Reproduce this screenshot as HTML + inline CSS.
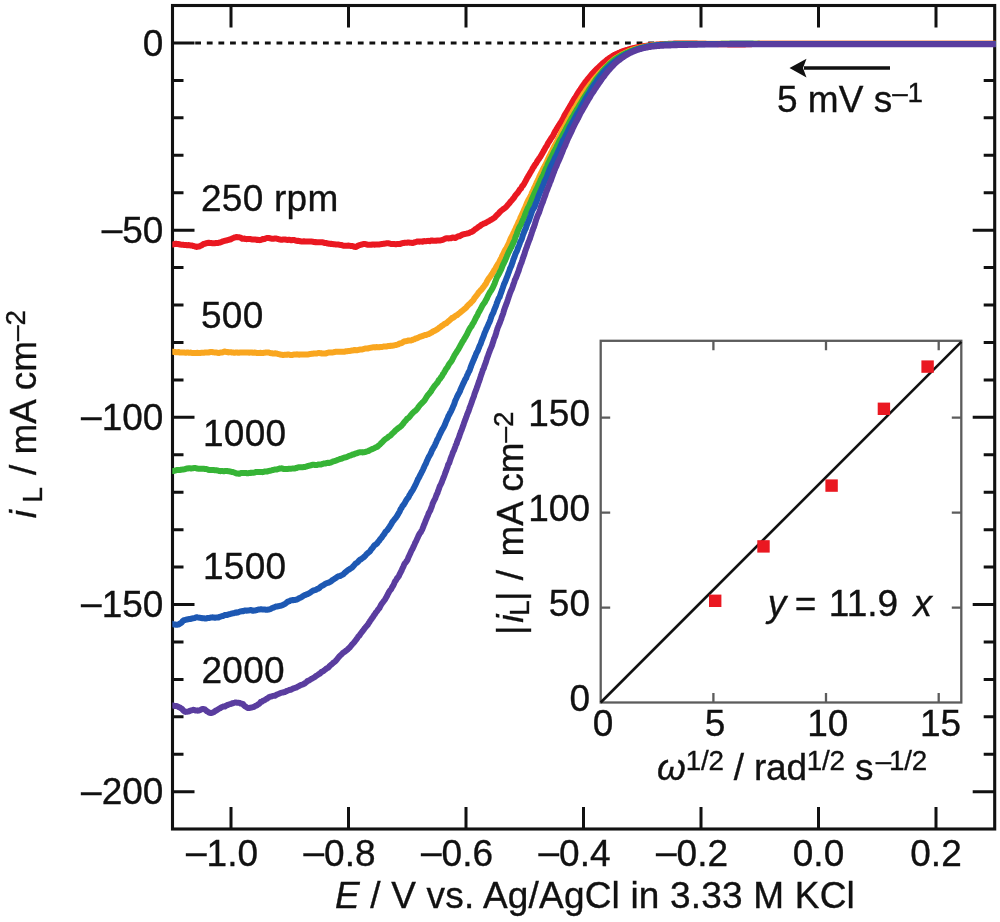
<!DOCTYPE html>
<html lang="en">
<head>
<meta charset="utf-8">
<title>RDE voltammograms</title>
<style>html,body{margin:0;padding:0;background:#fff}svg{display:block}</style>
</head>
<body>
<svg width="1000" height="922" viewBox="0 0 1000 922">
<rect width="1000" height="922" fill="#fff"/>
<filter id="soft" x="0" y="0" width="100%" height="100%" filterUnits="userSpaceOnUse" color-interpolation-filters="sRGB"><feGaussianBlur stdDeviation="0.55"/></filter>
<g filter="url(#soft)">
<rect width="1000" height="922" fill="#fff"/>
<g stroke="#111" stroke-width="3.0" fill="none">
<path d="M231.00 5.5v22.0M231.00 829.0v-22.0M348.50 5.5v22.0M348.50 829.0v-22.0M466.00 5.5v22.0M466.00 829.0v-22.0M583.50 5.5v22.0M583.50 829.0v-22.0M701.00 5.5v22.0M701.00 829.0v-22.0M818.50 5.5v22.0M818.50 829.0v-22.0M936.00 5.5v22.0M936.00 829.0v-22.0M172.5 43.00h22.0M994.7 43.00h-22.0M172.5 80.44h11.0M994.7 80.44h-11.0M172.5 117.87h11.0M994.7 117.87h-11.0M172.5 155.31h11.0M994.7 155.31h-11.0M172.5 192.74h11.0M994.7 192.74h-11.0M172.5 230.18h22.0M994.7 230.18h-22.0M172.5 267.61h11.0M994.7 267.61h-11.0M172.5 305.05h11.0M994.7 305.05h-11.0M172.5 342.48h11.0M994.7 342.48h-11.0M172.5 379.92h11.0M994.7 379.92h-11.0M172.5 417.35h22.0M994.7 417.35h-22.0M172.5 454.79h11.0M994.7 454.79h-11.0M172.5 492.22h11.0M994.7 492.22h-11.0M172.5 529.65h11.0M994.7 529.65h-11.0M172.5 567.09h11.0M994.7 567.09h-11.0M172.5 604.52h22.0M994.7 604.52h-22.0M172.5 641.96h11.0M994.7 641.96h-11.0M172.5 679.40h11.0M994.7 679.40h-11.0M172.5 716.83h11.0M994.7 716.83h-11.0M172.5 754.26h11.0M994.7 754.26h-11.0M172.5 791.70h22.0M994.7 791.70h-22.0"/>
</g>
<rect x="172.5" y="5.5" width="822.2" height="823.5" fill="none" stroke="#111" stroke-width="3.1"/>
<line x1="195.2" y1="43" x2="994.7" y2="43" stroke="#111" stroke-width="3.0" stroke-dasharray="5.8 5.816"/>
<clipPath id="pc"><rect x="172.3" y="0" width="823.4000000000001" height="922"/></clipPath>
<g fill="none" stroke-linejoin="round" stroke-linecap="butt" clip-path="url(#pc)">
<path d="M166.0 244.5L172.5 244.5L173.3 244.4L174.1 244.2L174.9 243.9L175.7 243.7L176.5 243.8L177.3 244.0L178.1 244.2L178.9 244.1L179.7 244.4L180.5 244.5L181.3 244.8L182.1 244.7L182.9 244.8L183.7 244.8L184.5 245.0L185.3 245.1L186.1 245.1L186.9 245.2L187.7 245.2L188.5 245.1L189.3 245.2L190.1 245.4L190.9 245.4L191.7 245.5L192.5 245.7L193.2 246.0L194.0 246.1L194.8 246.3L195.6 246.7L196.4 246.9L197.2 246.8L198.0 246.6L198.8 246.5L199.6 246.3L200.4 245.9L201.2 245.5L202.0 245.1L202.7 244.5L203.5 244.0L204.3 243.8L205.1 243.7L205.9 243.4L206.7 243.1L207.5 242.9L208.3 242.8L209.0 242.8L209.8 242.9L210.6 243.0L211.4 243.1L212.2 243.2L212.9 243.3L213.7 243.2L214.5 243.3L215.3 243.1L216.0 243.1L216.8 243.1L217.6 243.0L218.4 242.8L219.1 242.6L219.9 242.6L220.7 242.3L221.4 242.0L222.2 241.6L223.0 241.3L223.7 241.1L224.5 240.9L225.2 240.8L226.0 240.5L226.8 240.4L227.5 240.2L228.3 240.0L229.1 239.7L229.8 239.5L230.6 239.4L231.4 238.9L232.2 238.5L232.9 238.1L233.7 237.9L234.5 237.5L235.3 237.3L236.0 237.1L236.8 237.1L237.6 237.2L238.4 237.3L239.2 237.3L240.0 237.4L240.7 237.8L241.5 238.2L242.3 238.8L243.1 238.8L243.9 238.6L244.7 238.6L245.5 239.0L246.3 239.2L247.1 239.1L247.9 238.9L248.7 239.0L249.4 239.1L250.2 239.1L251.0 239.2L251.8 239.4L252.6 239.5L253.4 239.6L254.2 239.5L255.0 239.5L255.8 239.7L256.6 239.9L257.4 239.8L258.2 239.8L259.0 240.0L259.8 240.2L260.6 240.0L261.4 239.7L262.2 239.2L263.0 239.0L263.8 239.2L264.6 239.0L265.4 238.5L266.2 238.2L267.0 238.1L267.8 238.0L268.6 237.9L269.4 238.1L270.2 238.4L271.0 238.6L271.8 238.7L272.6 238.7L273.4 238.8L274.2 238.6L275.0 238.4L275.8 238.5L276.6 238.7L277.4 238.9L278.2 239.0L279.0 239.3L279.8 239.5L280.6 239.7L281.4 239.7L282.2 239.7L283.0 239.6L283.8 239.6L284.6 239.6L285.4 239.6L286.2 239.7L287.0 239.9L287.8 239.9L288.6 239.8L289.4 239.8L290.2 239.9L291.0 240.2L291.8 240.2L292.6 240.1L293.4 239.9L294.2 240.0L295.0 240.3L295.8 240.6L296.6 240.8L297.4 240.9L298.2 240.8L299.0 240.9L299.8 241.2L300.5 241.3L301.3 241.4L302.1 241.5L302.9 241.4L303.7 241.3L304.5 241.3L305.3 241.5L306.1 241.4L306.9 241.5L307.7 241.5L308.5 241.6L309.3 241.5L310.1 241.5L310.9 241.5L311.7 241.6L312.5 241.7L313.3 241.8L314.1 242.0L314.9 242.2L315.7 242.1L316.5 242.2L317.3 242.2L318.1 242.2L318.9 242.2L319.7 242.2L320.5 242.3L321.3 242.3L322.0 242.3L322.8 242.3L323.6 242.6L324.4 242.9L325.2 243.0L326.0 243.1L326.8 243.1L327.6 243.5L328.4 243.6L329.2 243.8L330.0 243.8L330.8 243.9L331.6 243.8L332.4 244.0L333.2 244.2L334.0 244.3L334.8 244.3L335.6 244.4L336.4 244.4L337.2 244.4L337.9 244.5L338.7 244.6L339.5 244.8L340.3 244.9L341.1 245.0L341.9 245.1L342.7 245.5L343.5 245.8L344.3 245.8L345.1 245.8L345.9 245.7L346.7 245.8L347.5 245.8L348.3 245.6L349.1 245.7L349.9 245.7L350.7 246.0L351.5 246.0L352.3 246.1L353.1 246.2L353.9 246.6L354.7 246.9L355.4 247.0L356.2 246.8L357.0 246.4L357.8 245.9L358.6 245.4L359.4 245.2L360.2 245.0L361.0 244.7L361.8 244.5L362.6 244.3L363.4 244.0L364.2 243.9L365.0 244.1L365.8 244.2L366.6 244.4L367.4 244.7L368.2 244.8L369.0 244.8L369.8 244.7L370.6 244.8L371.4 244.8L372.2 244.6L373.0 244.5L373.8 244.6L374.6 244.7L375.4 244.6L376.2 244.4L377.0 244.5L377.8 244.6L378.6 244.5L379.4 244.4L380.2 244.3L381.0 244.2L381.8 244.0L382.6 243.9L383.4 243.8L384.2 243.8L385.0 243.6L385.8 243.4L386.6 243.3L387.4 243.3L388.2 243.2L389.0 243.4L389.8 243.7L390.6 243.9L391.4 243.9L392.2 244.0L393.0 244.0L393.8 244.1L394.6 244.1L395.4 244.2L396.2 244.2L397.0 244.1L397.8 243.9L398.6 243.9L399.4 244.0L400.2 243.9L401.0 243.6L401.8 243.3L402.6 243.2L403.4 243.0L404.2 242.9L404.9 242.7L405.7 242.8L406.5 242.8L407.3 242.7L408.1 242.5L408.9 242.6L409.7 242.7L410.5 242.7L411.3 242.7L412.1 243.0L412.9 243.0L413.7 242.7L414.5 242.3L415.3 242.3L416.1 242.0L416.9 241.6L417.7 241.5L418.5 241.6L419.3 241.7L420.1 241.6L420.9 241.5L421.7 241.6L422.5 241.7L423.3 241.4L424.1 241.1L424.9 241.2L425.7 241.2L426.5 241.2L427.3 241.0L428.1 240.8L428.9 241.0L429.7 241.2L430.4 240.9L431.2 240.5L432.0 240.4L432.8 240.7L433.6 240.7L434.4 240.8L435.2 240.8L436.0 240.8L436.8 240.6L437.6 240.5L438.4 240.4L439.2 240.5L440.0 240.5L440.7 240.4L441.5 240.2L442.3 240.0L443.1 239.7L443.9 239.2L444.7 238.9L445.5 238.6L446.3 238.2L447.1 238.2L447.8 238.3L448.6 238.4L449.4 238.3L450.2 238.3L451.0 238.2L451.8 237.8L452.5 237.5L453.3 237.5L454.1 237.8L454.9 237.9L455.7 237.9L456.4 237.4L457.2 236.8L458.0 236.4L458.7 236.2L459.5 236.2L460.3 235.8L461.1 235.4L461.8 234.8L462.6 234.5L463.3 234.3L464.1 234.2L464.9 234.0L465.6 233.9L466.4 233.7L467.1 233.5L467.9 233.3L468.6 233.2L469.4 232.9L470.1 232.4L470.8 232.2L471.6 231.9L472.3 231.6L473.1 231.0L473.8 230.5L474.5 229.8L475.3 229.2L476.0 228.8L476.7 228.5L477.4 227.8L478.1 227.2L478.9 226.6L479.6 226.4L480.3 225.7L481.0 225.2L481.7 224.6L482.4 224.4L483.1 223.9L483.8 223.6L484.5 223.4L485.2 223.2L485.8 222.8L486.5 222.4L487.2 222.0L487.9 221.6L488.5 221.2L489.2 220.9L489.9 220.5L490.5 220.1L491.2 219.8L491.8 219.4L492.5 218.9L493.1 218.5L493.8 218.1L494.4 217.7L495.1 217.1L495.7 216.4L496.3 215.6L496.9 215.0L497.6 214.5L498.2 214.0L498.8 213.2L499.4 212.5L500.0 211.8L500.6 211.3L501.2 210.7L501.8 210.2L502.4 209.7L502.9 209.4L503.5 208.9L504.1 208.5L504.6 208.3L505.2 207.8L505.8 207.3L506.3 206.7L506.9 206.1L507.4 205.4L507.9 204.7L508.5 204.2L509.0 203.7L509.5 203.2L510.0 202.4L510.5 201.6L511.0 201.1L511.5 200.6L512.0 200.1L512.5 199.4L513.0 198.7L513.5 198.3L514.0 197.8L514.4 197.1L514.9 196.2L515.4 195.4L515.8 194.9L516.3 194.3L516.7 193.8L517.2 193.5L517.6 193.0L518.1 192.3L518.5 191.6L518.9 190.9L519.4 190.2L519.8 189.5L520.2 189.2L520.6 188.8L521.1 188.3L521.5 187.5L521.9 186.6L522.3 186.0L522.7 185.7L523.2 185.3L523.6 184.6L524.0 183.9L524.4 183.2L524.8 182.4L525.2 181.7L525.6 181.1L526.0 180.2L526.5 179.4L526.9 178.5L527.3 177.7L527.7 177.1L528.1 176.5L528.5 175.8L528.9 175.1L529.4 174.3L529.8 173.5L530.2 172.8L530.6 172.2L531.0 171.4L531.4 170.8L531.9 170.0L532.3 169.3L532.7 168.5L533.1 167.7L533.6 167.1L534.0 166.5L534.4 165.8L534.8 165.0L535.3 164.4L535.7 163.9L536.1 163.3L536.6 162.5L537.0 161.7L537.5 160.9L537.9 160.2L538.3 159.6L538.8 159.1L539.2 158.5L539.6 157.8L540.1 157.2L540.5 156.5L540.9 155.8L541.4 155.0L541.8 154.2L542.3 153.5L542.7 152.7L543.1 152.0L543.6 151.2L544.0 150.5L544.4 149.7L544.9 148.9L545.3 148.0L545.7 147.3L546.1 146.7L546.6 146.1L547.0 145.4L547.4 144.5L547.8 143.6L548.2 142.8L548.7 142.2L549.1 141.6L549.5 141.0L549.9 140.4L550.3 139.7L550.7 139.0L551.2 138.3L551.6 137.6L552.0 137.1L552.4 136.6L552.8 136.0L553.2 135.4L553.6 134.5L554.0 133.7L554.4 132.8L554.8 132.1L555.2 131.3L555.6 130.6L556.0 130.1L556.4 129.5L556.8 128.8L557.2 128.0L557.6 127.4L558.0 126.7L558.4 126.1L558.8 125.5L559.2 124.9L559.6 124.2L560.0 123.5L560.4 122.9L560.8 122.4L561.2 121.8L561.6 121.1L562.0 120.4L562.4 119.6L562.8 118.9L563.2 118.2L563.6 117.4L564.0 116.5L564.4 115.7L564.7 115.0L565.1 114.3L565.5 113.7L565.9 113.1L566.3 112.5L566.7 111.9L567.1 111.2L567.5 110.5L567.9 109.8L568.3 109.1L568.7 108.5L569.1 107.8L569.5 107.2L569.9 106.5L570.3 105.7L570.7 104.9L571.1 104.3L571.5 103.7L571.9 103.0L572.3 102.2L572.7 101.5L573.1 100.8L573.5 100.2L573.9 99.5L574.3 98.8L574.7 98.1L575.1 97.7L575.5 97.1L575.9 96.4L576.3 95.7L576.7 95.0L577.1 94.3L577.5 93.7L577.9 93.0L578.3 92.3L578.8 91.7L579.2 91.0L579.6 90.4L580.0 89.9L580.5 89.3L580.9 88.6L581.3 87.8L581.8 87.2L582.2 86.5L582.7 85.9L583.1 85.2L583.6 84.6L584.0 84.0L584.5 83.4L584.9 82.7L585.4 81.9L585.9 81.3L586.4 80.8L586.8 80.3L587.3 79.6L587.8 79.0L588.3 78.4L588.8 77.9L589.3 77.3L589.8 76.6L590.4 75.9L590.9 75.4L591.4 74.7L592.0 74.0L592.5 73.3L593.1 72.8L593.6 72.2L594.2 71.6L594.7 71.0L595.3 70.4L595.9 69.8L596.5 69.2L597.1 68.6L597.7 68.0L598.3 67.5L598.9 67.0L599.5 66.4L600.1 65.9L600.7 65.3L601.3 64.7L602.0 64.0L602.6 63.4L603.2 62.9L603.9 62.4L604.5 61.9L605.2 61.4L605.8 60.8L606.5 60.2L607.2 59.6L607.8 59.2L608.5 58.8L609.2 58.3L609.9 57.8L610.5 57.3L611.2 56.9L611.9 56.5L612.6 56.0L613.3 55.5L614.0 55.1L614.7 54.7L615.4 54.4L616.2 54.0L616.9 53.7L617.6 53.4L618.3 53.1L619.0 52.8L619.8 52.5L620.5 52.1L621.2 51.8L622.0 51.5L622.7 51.3L623.4 51.0L624.2 50.8L624.9 50.5L625.7 50.3L626.4 50.0L627.2 49.8L627.9 49.6L628.7 49.3L629.4 49.1L630.2 48.9L631.0 48.7L631.7 48.5L632.5 48.3L633.2 48.1L634.0 48.0L634.8 47.8L635.5 47.6L636.3 47.5L637.1 47.3L637.9 47.2L638.6 47.0L639.4 46.9L640.2 46.8L641.0 46.6L641.7 46.5L642.5 46.4L643.3 46.2L644.1 46.1L644.9 46.0L645.6 45.9L646.4 45.8L647.2 45.7L648.0 45.6L648.8 45.5L649.5 45.4L650.3 45.3L651.1 45.2L651.9 45.1L652.7 45.0L653.5 44.9L654.3 44.8L655.1 44.8L655.8 44.7L656.6 44.6L657.4 44.5L658.2 44.5L659.0 44.4L659.8 44.3L660.6 44.3L661.4 44.2L662.2 44.2L663.0 44.1L663.8 44.1L664.6 44.0L665.4 44.0L666.2 43.9L667.0 43.9L667.8 43.9L668.6 43.8L669.4 43.8L670.1 43.8L670.9 43.7L671.7 43.7L672.5 43.7L673.3 43.7L674.2 43.6L675.0 43.6L675.8 43.6L676.6 43.6L677.4 43.6L678.2 43.6L679.0 43.5L679.8 43.5L680.6 43.5L681.4 43.5L682.2 43.5L683.0 43.5L683.8 43.5L684.6 43.5L685.4 43.5L686.2 43.5L687.0 43.5L687.8 43.5L688.6 43.5L689.4 43.5L690.2 43.5L691.0 43.6L691.8 43.6L692.7 43.6L693.5 43.6L694.3 43.6L695.1 43.6L695.9 43.6L696.7 43.6L697.5 43.7L698.3 43.7L699.1 43.7L699.9 43.7L700.7 43.7L701.5 43.7L702.3 43.8L703.2 43.8L704.0 43.8L704.8 43.8L705.6 43.8L706.4 43.9L707.2 43.9L708.0 43.9L708.8 43.9L709.6 43.9L710.4 44.0L711.2 44.0L712.0 44.0L712.8 44.0L713.7 44.0L714.5 44.1L715.3 44.1L716.1 44.1L716.9 44.1L717.7 44.1L718.5 44.2L719.3 44.2L720.1 44.2L720.9 44.2L721.7 44.2L722.5 44.3L723.3 44.3L724.1 44.3L724.9 44.3L725.7 44.3L726.5 44.3L727.3 44.3L728.1 44.4L728.9 44.4L729.7 44.4L730.5 44.4L731.3 44.4L732.1 44.4L732.9 44.4L733.7 44.4L734.5 44.4L735.3 44.4L736.1 44.4L736.9 44.4L737.7 44.4L738.5 44.4L739.3 44.4L740.1 44.4L740.9 44.4L741.7 44.4L742.5 44.4L743.3 44.4L744.1 44.4L744.9 44.4L745.7 44.3L746.5 44.3L747.3 44.3L748.1 44.3L748.9 44.3L749.6 44.2L750.4 44.2L751.2 44.2L752.0 44.1L752.8 44.1L753.6 44.1L754.4 44.0L755.2 44.0L755.9 44.0L756.7 43.9L757.5 43.9L758.3 43.8L759.1 43.8L759.9 43.7L760.0 43.7L760.8 43.7L761.6 43.7L762.4 43.7L763.2 43.7L764.0 43.7L764.8 43.7L765.6 43.7L766.4 43.7L767.2 43.7L768.0 43.7L768.8 43.7L769.6 43.7L770.4 43.7L771.2 43.7L772.0 43.7L772.8 43.7L773.6 43.7L774.4 43.7L775.2 43.7L776.0 43.7L776.8 43.7L777.6 43.7L778.4 43.7L779.2 43.7L780.0 43.7L780.8 43.7L781.6 43.7L782.4 43.7L783.2 43.7L784.0 43.7L784.8 43.7L785.6 43.7L786.4 43.7L787.2 43.7L788.0 43.7L788.8 43.7L789.6 43.7L790.4 43.7L791.2 43.7L792.0 43.7L792.8 43.7L793.6 43.7L794.4 43.7L795.2 43.7L796.0 43.7L796.8 43.7L797.6 43.7L798.4 43.7L799.2 43.7L800.0 43.7L800.8 43.7L801.6 43.7L802.4 43.7L803.2 43.7L804.0 43.7L804.8 43.7L805.6 43.7L806.4 43.7L807.2 43.7L808.0 43.7L808.8 43.7L809.6 43.7L810.4 43.7L811.2 43.7L812.0 43.7L812.8 43.7L813.6 43.7L814.4 43.7L815.2 43.7L816.0 43.7L816.8 43.7L817.6 43.7L818.4 43.7L819.2 43.7L820.0 43.7L820.8 43.7L821.6 43.7L822.4 43.7L823.2 43.7L824.0 43.7L824.8 43.7L825.6 43.7L826.4 43.7L827.2 43.7L828.0 43.7L828.8 43.7L829.6 43.7L830.4 43.7L831.2 43.7L832.0 43.7L832.8 43.7L833.6 43.7L834.4 43.7L835.2 43.7L836.0 43.7L836.8 43.7L837.6 43.7L838.4 43.7L839.2 43.7L840.0 43.7L840.8 43.7L841.6 43.7L842.4 43.7L843.2 43.7L844.0 43.7L844.8 43.7L845.6 43.7L846.4 43.7L847.2 43.7L848.0 43.7L848.8 43.7L849.6 43.7L850.4 43.7L851.2 43.7L852.0 43.7L852.8 43.7L853.6 43.7L854.4 43.7L855.2 43.7L856.0 43.7L856.8 43.7L857.6 43.7L858.4 43.7L859.2 43.7L860.0 43.7L860.8 43.7L861.6 43.7L862.4 43.7L863.2 43.7L864.0 43.7L864.8 43.7L865.6 43.7L866.4 43.7L867.2 43.7L868.0 43.7L868.8 43.7L869.6 43.7L870.4 43.7L871.2 43.7L872.0 43.7L872.8 43.7L873.6 43.7L874.4 43.7L875.2 43.7L876.0 43.7L876.8 43.7L877.6 43.7L878.4 43.7L879.2 43.7L880.0 43.7L880.8 43.7L881.6 43.7L882.4 43.7L883.2 43.7L884.0 43.7L884.8 43.7L885.6 43.7L886.4 43.7L887.2 43.7L888.0 43.7L888.8 43.7L889.6 43.7L890.4 43.7L891.2 43.7L892.0 43.7L892.8 43.7L893.6 43.7L894.4 43.7L895.2 43.7L896.0 43.7L896.8 43.7L897.6 43.7L898.4 43.7L899.2 43.7L900.0 43.7L900.8 43.7L901.6 43.7L902.4 43.7L903.2 43.7L904.0 43.7L904.8 43.7L905.6 43.7L906.4 43.7L907.2 43.7L908.0 43.7L908.8 43.7L909.6 43.7L910.4 43.7L911.2 43.7L912.0 43.7L912.8 43.7L913.6 43.7L914.4 43.7L915.2 43.7L916.0 43.7L916.8 43.7L917.6 43.7L918.4 43.7L919.2 43.7L920.0 43.7L920.8 43.7L921.6 43.7L922.4 43.7L923.2 43.7L924.0 43.7L924.8 43.7L925.6 43.7L926.4 43.7L927.2 43.7L928.0 43.7L928.8 43.7L929.6 43.7L930.4 43.7L931.2 43.7L932.0 43.7L932.8 43.7L933.6 43.7L934.4 43.7L935.2 43.7L936.0 43.7L936.8 43.7L937.6 43.7L938.4 43.7L939.2 43.7L940.0 43.7L940.8 43.7L941.6 43.7L942.4 43.7L943.2 43.7L944.0 43.7L944.8 43.7L945.6 43.7L946.4 43.7L947.2 43.7L948.0 43.7L948.8 43.7L949.6 43.7L950.4 43.7L951.2 43.7L952.0 43.7L952.8 43.7L953.6 43.7L954.4 43.7L955.2 43.7L956.0 43.7L956.8 43.7L957.6 43.7L958.4 43.7L959.2 43.7L960.0 43.7L960.8 43.7L961.6 43.7L962.4 43.7L963.2 43.7L964.0 43.7L964.8 43.7L965.6 43.7L966.4 43.7L967.2 43.7L968.0 43.7L968.8 43.7L969.6 43.7L970.4 43.7L971.2 43.7L972.0 43.7L972.8 43.7L973.6 43.7L974.4 43.7L975.2 43.7L976.0 43.7L976.8 43.7L977.6 43.7L978.4 43.7L979.2 43.7L980.0 43.7L980.8 43.7L981.6 43.7L982.4 43.7L983.2 43.7L984.0 43.7L984.8 43.7L985.6 43.7L986.4 43.7L987.2 43.7L988.0 43.7L988.8 43.7L989.6 43.7L990.4 43.7L991.2 43.7L992.0 43.7L992.8 43.7L993.6 43.7L994.4 43.7L994.7 43.7L1000.0 43.7" stroke="#ea1821" stroke-width="6.0"/>
<path d="M166.0 351.7L172.5 351.7L173.3 351.8L174.1 352.0L174.9 352.0L175.7 352.2L176.5 352.3L177.3 352.3L178.1 352.0L178.9 352.1L179.7 352.5L180.5 352.5L181.3 352.4L182.1 352.4L182.9 352.5L183.7 352.5L184.5 352.6L185.3 352.7L186.1 352.7L186.9 352.6L187.7 352.5L188.5 352.7L189.3 352.8L190.1 352.7L190.9 352.6L191.7 352.8L192.5 353.0L193.3 353.0L194.1 352.9L194.9 352.9L195.7 353.0L196.5 352.9L197.3 352.8L198.1 352.9L198.9 353.1L199.7 352.9L200.5 352.9L201.3 352.8L202.1 352.7L202.9 352.7L203.7 352.7L204.5 352.7L205.3 352.5L206.1 352.6L206.9 352.6L207.7 352.6L208.5 352.5L209.3 352.3L210.1 351.9L210.9 351.9L211.7 352.0L212.5 352.2L213.3 352.3L214.0 352.4L214.8 352.4L215.6 352.4L216.4 352.6L217.2 352.7L218.0 352.9L218.8 353.0L219.6 352.8L220.4 352.5L221.2 352.4L222.0 352.4L222.8 352.3L223.6 351.9L224.4 351.6L225.2 351.6L226.0 351.8L226.8 352.1L227.6 352.2L228.4 352.4L229.2 352.2L230.0 352.2L230.8 352.2L231.6 352.4L232.4 352.5L233.2 352.6L234.0 352.7L234.8 352.7L235.6 352.6L236.4 352.5L237.2 352.4L238.0 352.7L238.8 352.7L239.6 352.7L240.4 352.5L241.2 352.5L242.0 352.6L242.8 352.5L243.6 352.4L244.4 352.4L245.2 352.5L246.0 352.4L246.8 352.5L247.6 352.4L248.4 352.6L249.2 352.7L250.0 352.6L250.8 352.4L251.6 352.4L252.4 352.7L253.2 352.8L254.0 352.6L254.8 352.6L255.6 352.7L256.4 352.9L257.2 352.9L258.0 352.9L258.8 352.9L259.6 352.9L260.4 352.8L261.2 352.9L262.0 353.0L262.8 352.9L263.6 352.9L264.4 352.7L265.2 352.7L266.0 352.5L266.8 352.6L267.6 352.4L268.4 352.5L269.2 352.7L270.0 353.0L270.8 353.2L271.6 353.2L272.4 353.3L273.2 353.5L274.0 353.5L274.8 353.3L275.6 353.3L276.4 353.5L277.2 353.8L278.0 353.9L278.8 354.1L279.6 354.3L280.4 354.6L281.2 354.7L282.0 354.8L282.8 354.9L283.6 354.9L284.4 354.8L285.2 354.7L286.0 354.8L286.8 354.8L287.6 354.6L288.4 354.5L289.2 354.7L290.0 354.9L290.8 355.0L291.6 355.0L292.4 354.9L293.2 354.7L294.0 354.6L294.8 354.5L295.6 354.5L296.4 354.4L297.2 354.3L298.0 354.5L298.8 354.7L299.6 354.7L300.3 354.5L301.1 354.4L301.9 354.4L302.7 354.5L303.5 354.5L304.3 354.5L305.1 354.6L305.9 354.6L306.7 354.5L307.5 354.4L308.3 354.4L309.1 354.2L309.9 354.1L310.7 353.9L311.5 353.8L312.3 353.8L313.1 353.7L313.9 353.5L314.7 353.5L315.5 353.5L316.3 353.5L317.1 353.4L317.9 353.2L318.7 353.0L319.5 353.1L320.3 353.2L321.1 353.4L321.9 353.3L322.7 353.5L323.5 353.5L324.3 353.5L325.1 353.4L325.9 353.4L326.7 353.1L327.5 352.8L328.3 352.6L329.1 352.4L329.9 352.4L330.7 352.4L331.5 352.4L332.3 352.4L333.1 352.4L333.8 352.3L334.6 352.0L335.4 351.8L336.2 351.7L337.0 351.8L337.8 351.8L338.6 351.8L339.4 351.7L340.2 351.7L341.0 351.7L341.8 351.8L342.6 351.7L343.4 351.8L344.2 351.8L345.0 351.6L345.8 351.3L346.6 351.2L347.4 351.2L348.2 351.1L349.0 351.0L349.8 350.9L350.6 350.8L351.4 350.6L352.2 350.5L353.0 350.4L353.8 350.2L354.6 350.0L355.3 350.2L356.1 350.3L356.9 350.3L357.7 350.1L358.5 349.9L359.3 349.7L360.1 349.6L360.9 349.5L361.7 349.5L362.5 349.3L363.3 349.1L364.1 348.8L364.9 348.6L365.7 348.4L366.5 348.4L367.3 348.5L368.1 348.4L368.9 348.1L369.7 347.9L370.5 347.8L371.3 347.6L372.0 347.5L372.8 347.3L373.6 347.3L374.4 347.3L375.2 347.4L376.0 347.2L376.8 347.1L377.6 347.3L378.4 347.3L379.2 347.3L380.0 347.1L380.8 347.0L381.6 346.9L382.4 346.9L383.2 346.7L383.9 346.5L384.7 346.5L385.5 346.6L386.3 346.6L387.1 346.4L387.9 346.2L388.7 345.9L389.5 345.9L390.3 345.8L391.1 345.9L391.8 345.8L392.6 345.7L393.4 345.6L394.2 345.4L395.0 345.2L395.8 345.0L396.5 344.8L397.3 344.6L398.1 344.4L398.9 343.9L399.7 343.5L400.4 343.2L401.2 343.2L402.0 342.9L402.8 342.3L403.5 341.7L404.3 341.4L405.1 341.3L405.8 341.2L406.6 341.1L407.4 340.9L408.1 340.6L408.9 340.5L409.7 340.4L410.4 340.5L411.2 340.4L411.9 340.2L412.7 339.8L413.4 339.4L414.2 339.3L414.9 338.9L415.7 338.5L416.4 338.3L417.2 338.2L417.9 337.8L418.7 337.4L419.4 337.0L420.1 336.7L420.9 336.5L421.6 336.3L422.4 336.0L423.1 335.8L423.8 335.5L424.5 335.2L425.3 335.0L426.0 335.0L426.7 334.7L427.4 334.4L428.2 334.2L428.9 334.0L429.6 333.6L430.3 333.2L431.0 332.8L431.7 332.5L432.4 332.0L433.1 331.4L433.8 331.0L434.5 330.9L435.2 330.6L435.9 330.1L436.6 329.7L437.3 329.2L438.0 328.8L438.7 328.2L439.4 327.6L440.0 327.2L440.7 326.7L441.4 326.2L442.1 325.6L442.8 325.4L443.4 324.8L444.1 324.2L444.8 323.7L445.4 323.6L446.1 323.4L446.7 322.9L447.4 322.2L448.1 321.5L448.7 321.1L449.4 320.5L450.0 320.0L450.6 319.4L451.3 318.8L451.9 318.1L452.6 317.8L453.2 317.7L453.8 317.3L454.5 316.6L455.1 316.2L455.7 315.7L456.3 315.4L456.9 315.2L457.6 314.7L458.2 314.1L458.8 313.5L459.4 313.3L460.0 312.8L460.6 312.2L461.2 311.6L461.8 311.2L462.4 310.8L463.0 310.3L463.5 309.7L464.1 309.2L464.7 308.8L465.3 308.5L465.9 307.9L466.4 307.3L467.0 306.4L467.6 305.9L468.1 305.3L468.7 304.7L469.2 304.2L469.8 303.9L470.3 303.4L470.9 302.6L471.4 302.0L472.0 301.4L472.5 301.1L473.1 300.4L473.6 299.8L474.1 298.7L474.6 297.9L475.2 297.2L475.7 296.7L476.2 295.9L476.7 295.3L477.2 294.7L477.7 294.0L478.2 293.1L478.7 292.4L479.2 292.0L479.7 291.5L480.2 290.9L480.7 290.2L481.2 289.8L481.7 289.3L482.1 288.8L482.6 288.1L483.1 287.5L483.6 286.8L484.0 286.3L484.5 285.6L485.0 284.8L485.4 284.4L485.9 283.8L486.3 282.9L486.8 281.7L487.2 281.0L487.7 280.1L488.1 279.5L488.6 278.8L489.0 278.1L489.5 277.5L489.9 277.0L490.3 276.4L490.8 275.7L491.2 275.1L491.6 274.5L492.0 273.9L492.5 273.3L492.9 272.6L493.3 271.8L493.7 271.2L494.1 270.4L494.6 269.9L495.0 269.2L495.4 268.6L495.8 267.7L496.2 267.0L496.6 266.3L497.0 265.7L497.4 265.0L497.8 264.4L498.2 263.7L498.6 263.0L499.0 262.5L499.4 261.8L499.7 261.0L500.1 260.2L500.5 259.5L500.9 258.8L501.3 258.0L501.7 257.1L502.0 256.2L502.4 255.5L502.8 254.9L503.2 254.1L503.5 253.3L503.9 252.5L504.3 251.8L504.6 250.9L505.0 250.2L505.4 249.7L505.7 249.2L506.1 248.5L506.5 248.0L506.8 247.4L507.2 246.6L507.5 245.8L507.9 245.2L508.3 244.5L508.6 243.6L509.0 242.8L509.3 241.9L509.7 241.1L510.0 240.2L510.4 239.4L510.7 238.5L511.1 237.8L511.4 237.0L511.8 236.5L512.1 235.9L512.4 235.3L512.8 234.5L513.1 233.8L513.5 233.1L513.8 232.4L514.2 231.7L514.5 230.9L514.8 230.1L515.2 229.6L515.5 229.0L515.8 228.1L516.2 227.1L516.5 226.4L516.9 225.7L517.2 225.1L517.5 224.5L517.9 223.7L518.2 222.8L518.5 222.0L518.9 221.3L519.2 220.8L519.5 220.1L519.9 219.3L520.2 218.4L520.5 217.7L520.8 216.9L521.2 216.2L521.5 215.6L521.8 214.9L522.2 214.1L522.5 213.3L522.8 212.7L523.2 212.0L523.5 211.3L523.8 210.4L524.2 209.5L524.5 208.8L524.8 208.2L525.2 207.5L525.5 206.7L525.8 205.9L526.1 205.1L526.5 204.2L526.8 203.4L527.1 202.7L527.5 201.9L527.8 201.3L528.1 200.5L528.5 199.9L528.8 199.2L529.1 198.7L529.5 198.1L529.8 197.6L530.1 197.1L530.5 196.3L530.8 195.7L531.1 195.0L531.5 194.1L531.8 193.0L532.1 192.4L532.5 191.9L532.8 191.3L533.1 190.4L533.5 189.7L533.8 189.0L534.1 188.2L534.5 187.4L534.8 186.8L535.2 186.1L535.5 185.3L535.8 184.5L536.2 183.6L536.5 182.8L536.8 182.1L537.2 181.6L537.5 180.9L537.8 180.1L538.2 179.4L538.5 178.8L538.9 177.9L539.2 177.2L539.5 176.3L539.9 175.5L540.2 174.9L540.6 174.5L540.9 173.8L541.2 172.9L541.6 172.1L541.9 171.5L542.3 170.8L542.6 170.0L543.0 169.2L543.3 168.6L543.6 168.0L544.0 167.4L544.3 166.8L544.7 166.1L545.0 165.4L545.4 164.7L545.7 164.1L546.1 163.5L546.4 162.8L546.8 162.1L547.1 161.2L547.4 160.4L547.8 159.7L548.1 158.9L548.5 158.3L548.8 157.4L549.2 156.6L549.5 156.0L549.9 155.4L550.2 154.7L550.6 154.0L550.9 153.2L551.3 152.4L551.7 151.7L552.0 151.1L552.4 150.4L552.7 149.6L553.1 148.8L553.4 148.0L553.8 147.3L554.1 146.6L554.5 145.8L554.9 145.2L555.2 144.6L555.6 144.1L555.9 143.4L556.3 142.9L556.6 142.2L557.0 141.6L557.4 140.8L557.7 140.0L558.1 139.4L558.5 138.7L558.8 137.8L559.2 137.1L559.6 136.5L559.9 135.8L560.3 134.9L560.7 134.1L561.0 133.3L561.4 132.6L561.8 131.9L562.1 131.0L562.5 130.2L562.9 129.5L563.2 129.0L563.6 128.4L564.0 127.8L564.4 127.1L564.7 126.5L565.1 125.9L565.5 125.1L565.9 124.3L566.2 123.6L566.6 122.9L567.0 122.2L567.4 121.3L567.8 120.6L568.1 119.9L568.5 119.3L568.9 118.6L569.3 117.9L569.7 117.1L570.1 116.5L570.5 115.8L570.8 115.0L571.2 114.3L571.6 113.6L572.0 112.9L572.4 112.2L572.8 111.5L573.2 110.7L573.6 110.1L574.0 109.5L574.4 108.8L574.8 108.1L575.3 107.4L575.7 106.8L576.1 106.2L576.5 105.5L576.9 104.8L577.3 104.0L577.7 103.2L578.2 102.3L578.6 101.7L579.0 101.0L579.4 100.4L579.9 99.7L580.3 99.0L580.7 98.3L581.2 97.5L581.6 96.9L582.1 96.1L582.5 95.4L583.0 94.7L583.4 94.0L583.9 93.3L584.3 92.7L584.8 92.1L585.2 91.4L585.7 90.7L586.1 90.0L586.6 89.3L587.1 88.7L587.6 88.0L588.0 87.4L588.5 86.7L589.0 86.1L589.5 85.4L590.0 84.8L590.4 84.2L590.9 83.6L591.4 83.0L591.9 82.4L592.4 81.8L592.9 81.0L593.4 80.3L594.0 79.6L594.5 79.0L595.0 78.4L595.5 77.8L596.0 77.2L596.6 76.6L597.1 76.0L597.6 75.4L598.2 74.8L598.7 74.1L599.2 73.5L599.8 72.9L600.3 72.4L600.9 71.8L601.5 71.2L602.0 70.7L602.6 70.0L603.2 69.4L603.7 68.8L604.3 68.3L604.9 67.8L605.5 67.2L606.0 66.7L606.6 66.2L607.2 65.6L607.8 65.0L608.4 64.4L609.0 63.8L609.6 63.2L610.2 62.6L610.9 62.0L611.5 61.5L612.1 61.0L612.7 60.5L613.3 60.0L614.0 59.5L614.6 59.1L615.2 58.6L615.9 58.1L616.5 57.7L617.2 57.3L617.8 56.9L618.5 56.4L619.1 56.1L619.8 55.7L620.5 55.3L621.1 54.9L621.8 54.6L622.5 54.2L623.1 53.9L623.8 53.5L624.5 53.2L625.2 52.8L625.9 52.5L626.6 52.2L627.3 51.9L628.0 51.5L628.7 51.2L629.4 51.0L630.1 50.7L630.8 50.4L631.5 50.1L632.2 49.9L633.0 49.6L633.7 49.4L634.4 49.1L635.1 48.9L635.9 48.7L636.6 48.5L637.3 48.3L638.1 48.1L638.8 47.9L639.6 47.7L640.3 47.5L641.1 47.4L641.8 47.2L642.6 47.0L643.3 46.9L644.1 46.7L644.8 46.6L645.6 46.4L646.4 46.3L647.1 46.2L647.9 46.0L648.7 45.9L649.4 45.8L650.2 45.7L651.0 45.6L651.8 45.5L652.5 45.4L653.3 45.3L654.1 45.2L654.9 45.1L655.7 45.0L656.5 44.9L657.3 44.8L658.0 44.8L658.8 44.7L659.6 44.6L660.4 44.6L661.2 44.5L662.0 44.4L662.8 44.4L663.6 44.3L664.4 44.3L665.2 44.2L666.0 44.2L666.8 44.1L667.6 44.1L668.4 44.1L669.2 44.0L670.1 44.0L670.9 44.0L671.7 43.9L672.5 43.9L673.3 43.9L674.1 43.9L674.9 43.9L675.7 43.8L676.6 43.8L677.4 43.8L678.2 43.8L679.0 43.8L679.8 43.8L680.6 43.8L681.5 43.8L682.3 43.8L683.1 43.8L683.9 43.8L684.7 43.8L685.5 43.8L686.4 43.8L687.2 43.8L688.0 43.8L688.8 43.8L689.6 43.8L690.5 43.8L691.3 43.8L692.1 43.8L692.9 43.8L693.8 43.8L694.6 43.8L695.4 43.8L696.2 43.8L697.0 43.8L697.8 43.8L698.7 43.8L699.5 43.8L700.3 43.8L701.1 43.8L701.9 43.8L702.8 43.8L703.6 43.8L704.4 43.8L705.2 43.8L706.0 43.8L706.8 43.8L707.6 43.8L708.5 43.8L709.3 43.8L710.1 43.8L710.9 43.8L711.7 43.8L712.5 43.8L713.3 43.8L714.1 43.8L714.9 43.8L715.8 43.8L716.6 43.8L717.4 43.8L718.2 43.8L719.0 43.8L719.8 43.8L720.6 43.8L721.4 43.8L722.2 43.8L723.0 43.8L723.8 43.8L724.6 43.8L725.4 43.8L726.2 43.8L727.0 43.8L727.8 43.8L728.6 43.8L729.4 43.7L730.2 43.7L731.0 43.7L731.9 43.7L732.7 43.7L733.5 43.7L734.2 43.7L735.0 43.7L735.8 43.7L736.6 43.7L737.4 43.7L738.2 43.7L739.0 43.7L739.8 43.7L740.6 43.7L741.4 43.7L742.2 43.7L743.0 43.7L743.8 43.7L744.6 43.7L745.4 43.7L746.2 43.7L747.0 43.7L747.8 43.7L748.6 43.7L749.3 43.7L750.1 43.7L750.9 43.7L751.7 43.7L752.5 43.7L753.3 43.7L754.1 43.7L754.9 43.7L755.7 43.7L756.4 43.7L757.2 43.8L758.0 43.8L758.8 43.8L759.6 43.8L760.0 43.8L760.8 43.8L761.6 43.8L762.4 43.8L763.2 43.8L764.0 43.8L764.8 43.8L765.6 43.8L766.4 43.8L767.2 43.8L768.0 43.8L768.8 43.8L769.6 43.8L770.4 43.8L771.2 43.8L772.0 43.8L772.8 43.8L773.6 43.8L774.4 43.8L775.2 43.8L776.0 43.8L776.8 43.8L777.6 43.8L778.4 43.8L779.2 43.8L780.0 43.8L780.8 43.8L781.6 43.8L782.4 43.8L783.2 43.8L784.0 43.8L784.8 43.8L785.6 43.8L786.4 43.8L787.2 43.8L788.0 43.8L788.8 43.8L789.6 43.8L790.4 43.8L791.2 43.8L792.0 43.8L792.8 43.8L793.6 43.8L794.4 43.8L795.2 43.8L796.0 43.8L796.8 43.8L797.6 43.8L798.4 43.8L799.2 43.8L800.0 43.8L800.8 43.8L801.6 43.8L802.4 43.8L803.2 43.8L804.0 43.8L804.8 43.8L805.6 43.8L806.4 43.8L807.2 43.8L808.0 43.8L808.8 43.8L809.6 43.8L810.4 43.8L811.2 43.8L812.0 43.8L812.8 43.8L813.6 43.8L814.4 43.8L815.2 43.8L816.0 43.8L816.8 43.8L817.6 43.8L818.4 43.8L819.2 43.8L820.0 43.8L820.8 43.8L821.6 43.8L822.4 43.8L823.2 43.8L824.0 43.8L824.8 43.8L825.6 43.8L826.4 43.8L827.2 43.8L828.0 43.8L828.8 43.8L829.6 43.8L830.4 43.8L831.2 43.8L832.0 43.8L832.8 43.8L833.6 43.8L834.4 43.8L835.2 43.8L836.0 43.8L836.8 43.8L837.6 43.8L838.4 43.8L839.2 43.8L840.0 43.8L840.8 43.8L841.6 43.8L842.4 43.8L843.2 43.8L844.0 43.8L844.8 43.8L845.6 43.8L846.4 43.8L847.2 43.8L848.0 43.8L848.8 43.8L849.6 43.8L850.4 43.8L851.2 43.8L852.0 43.8L852.8 43.8L853.6 43.8L854.4 43.8L855.2 43.8L856.0 43.8L856.8 43.8L857.6 43.8L858.4 43.8L859.2 43.8L860.0 43.8L860.8 43.8L861.6 43.8L862.4 43.8L863.2 43.8L864.0 43.8L864.8 43.8L865.6 43.8L866.4 43.8L867.2 43.8L868.0 43.8L868.8 43.8L869.6 43.8L870.4 43.8L871.2 43.8L872.0 43.8L872.8 43.8L873.6 43.8L874.4 43.8L875.2 43.8L876.0 43.8L876.8 43.8L877.6 43.8L878.4 43.8L879.2 43.8L880.0 43.8L880.8 43.8L881.6 43.8L882.4 43.8L883.2 43.8L884.0 43.8L884.8 43.8L885.6 43.8L886.4 43.8L887.2 43.8L888.0 43.8L888.8 43.8L889.6 43.8L890.4 43.8L891.2 43.8L892.0 43.8L892.8 43.8L893.6 43.8L894.4 43.8L895.2 43.8L896.0 43.8L896.8 43.8L897.6 43.8L898.4 43.8L899.2 43.8L900.0 43.8L900.8 43.8L901.6 43.8L902.4 43.8L903.2 43.8L904.0 43.8L904.8 43.8L905.6 43.8L906.4 43.8L907.2 43.8L908.0 43.8L908.8 43.8L909.6 43.8L910.4 43.8L911.2 43.8L912.0 43.8L912.8 43.8L913.6 43.8L914.4 43.8L915.2 43.8L916.0 43.8L916.8 43.8L917.6 43.8L918.4 43.8L919.2 43.8L920.0 43.8L920.8 43.8L921.6 43.8L922.4 43.8L923.2 43.8L924.0 43.8L924.8 43.8L925.6 43.8L926.4 43.8L927.2 43.8L928.0 43.8L928.8 43.8L929.6 43.8L930.4 43.8L931.2 43.8L932.0 43.8L932.8 43.8L933.6 43.8L934.4 43.8L935.2 43.8L936.0 43.8L936.8 43.8L937.6 43.8L938.4 43.8L939.2 43.8L940.0 43.8L940.8 43.8L941.6 43.8L942.4 43.8L943.2 43.8L944.0 43.8L944.8 43.8L945.6 43.8L946.4 43.8L947.2 43.8L948.0 43.8L948.8 43.8L949.6 43.8L950.4 43.8L951.2 43.8L952.0 43.8L952.8 43.8L953.6 43.8L954.4 43.8L955.2 43.8L956.0 43.8L956.8 43.8L957.6 43.8L958.4 43.8L959.2 43.8L960.0 43.8L960.8 43.8L961.6 43.8L962.4 43.8L963.2 43.8L964.0 43.8L964.8 43.8L965.6 43.8L966.4 43.8L967.2 43.8L968.0 43.8L968.8 43.8L969.6 43.8L970.4 43.8L971.2 43.8L972.0 43.8L972.8 43.8L973.6 43.8L974.4 43.8L975.2 43.8L976.0 43.8L976.8 43.8L977.6 43.8L978.4 43.8L979.2 43.8L980.0 43.8L980.8 43.8L981.6 43.8L982.4 43.8L983.2 43.8L984.0 43.8L984.8 43.8L985.6 43.8L986.4 43.8L987.2 43.8L988.0 43.8L988.8 43.8L989.6 43.8L990.4 43.8L991.2 43.8L992.0 43.8L992.8 43.8L993.6 43.8L994.4 43.8L994.7 43.8L1000.0 43.8" stroke="#f9a61f" stroke-width="6.0"/>
<path d="M166.0 471.1L172.5 471.1L173.3 470.9L174.1 470.9L174.9 470.7L175.7 470.2L176.5 470.2L177.3 470.0L178.0 470.1L178.8 470.0L179.6 470.0L180.4 469.8L181.2 469.8L182.0 469.6L182.8 469.4L183.6 469.4L184.4 469.3L185.2 469.1L186.0 468.7L186.8 468.6L187.6 468.6L188.4 468.4L189.2 468.2L189.9 468.3L190.7 468.4L191.5 468.4L192.3 468.3L193.1 468.3L193.9 468.0L194.7 468.0L195.5 468.0L196.3 468.3L197.1 468.5L197.9 468.7L198.7 468.7L199.5 468.7L200.3 468.7L201.1 468.8L201.9 468.8L202.7 468.7L203.5 468.8L204.3 468.8L205.1 469.0L205.9 469.0L206.7 469.2L207.5 469.4L208.3 469.8L209.1 469.9L209.9 469.9L210.7 469.9L211.5 469.9L212.2 470.0L213.0 470.0L213.8 470.1L214.6 470.2L215.4 470.2L216.2 470.2L217.0 470.4L217.8 470.5L218.6 470.8L219.4 471.0L220.2 471.2L221.0 471.1L221.8 471.1L222.6 471.1L223.4 471.2L224.2 471.2L225.0 471.1L225.8 471.0L226.6 470.9L227.4 471.1L228.2 471.2L229.0 471.3L229.8 471.4L230.6 471.7L231.4 471.9L232.2 471.9L233.0 472.2L233.8 472.4L234.6 472.6L235.4 473.0L236.2 473.4L237.0 473.6L237.8 473.6L238.6 473.7L239.4 473.7L240.2 473.3L241.0 473.0L241.8 472.9L242.6 473.0L243.4 473.1L244.2 473.1L245.0 473.0L245.8 473.0L246.6 473.2L247.4 473.3L248.2 473.3L249.0 473.0L249.8 472.9L250.6 472.8L251.4 472.9L252.1 472.8L252.9 472.7L253.7 472.7L254.5 472.6L255.3 472.2L256.1 471.9L256.9 472.1L257.7 472.1L258.5 472.1L259.3 472.1L260.1 472.0L260.9 471.9L261.7 472.0L262.5 472.2L263.3 472.0L264.1 471.7L264.9 471.5L265.7 471.5L266.5 471.5L267.3 471.4L268.0 471.1L268.8 470.9L269.6 470.8L270.4 470.8L271.2 470.5L272.0 470.2L272.8 470.0L273.6 469.9L274.4 469.7L275.2 469.5L276.0 469.6L276.8 469.6L277.5 469.3L278.3 468.8L279.1 468.6L279.9 468.7L280.7 468.5L281.5 468.3L282.3 468.4L283.1 468.8L283.9 469.0L284.6 469.1L285.4 469.1L286.2 469.1L287.0 469.0L287.8 468.9L288.6 468.8L289.4 468.8L290.2 468.8L291.0 468.7L291.7 468.6L292.5 468.5L293.3 468.6L294.1 468.6L294.9 468.5L295.7 468.2L296.5 468.0L297.3 467.6L298.0 467.4L298.8 467.3L299.6 467.2L300.4 467.2L301.2 467.3L302.0 467.2L302.8 467.2L303.6 467.1L304.4 467.0L305.2 466.9L306.0 466.7L306.7 466.4L307.5 466.2L308.3 465.9L309.1 465.7L309.9 465.6L310.7 465.4L311.5 465.1L312.3 464.8L313.1 464.8L313.9 464.8L314.7 464.9L315.5 465.0L316.2 465.1L317.0 465.0L317.8 464.7L318.6 464.5L319.4 464.4L320.2 464.5L321.0 464.5L321.7 464.2L322.5 464.0L323.3 463.7L324.1 463.4L324.9 463.4L325.6 463.4L326.4 463.1L327.2 462.9L328.0 462.8L328.7 462.9L329.5 462.9L330.3 462.7L331.1 462.4L331.8 462.0L332.6 461.7L333.4 461.3L334.2 461.1L334.9 460.9L335.7 460.8L336.5 460.5L337.2 460.1L338.0 459.8L338.8 459.5L339.5 459.2L340.3 458.9L341.1 458.8L341.8 458.6L342.6 458.3L343.4 457.8L344.1 457.6L344.9 457.4L345.7 457.3L346.4 457.1L347.2 456.8L347.9 456.5L348.7 456.0L349.5 455.7L350.2 455.6L351.0 455.3L351.8 454.9L352.5 454.6L353.3 454.5L354.1 454.3L354.8 453.8L355.6 453.5L356.4 453.3L357.1 453.2L357.9 452.9L358.7 452.5L359.4 452.4L360.2 452.2L361.0 452.2L361.7 452.2L362.5 452.4L363.3 452.3L364.0 452.2L364.8 452.1L365.6 451.9L366.3 451.6L367.1 451.4L367.9 451.2L368.6 450.9L369.4 450.4L370.1 450.0L370.9 449.7L371.6 449.3L372.3 449.0L373.0 448.8L373.8 448.5L374.5 448.1L375.2 447.6L375.9 447.4L376.5 447.1L377.2 446.9L377.9 446.3L378.5 445.7L379.1 445.1L379.8 444.6L380.4 444.0L381.0 443.3L381.6 442.7L382.3 442.1L382.9 441.5L383.5 440.9L384.1 440.2L384.7 439.6L385.4 439.1L386.0 438.6L386.6 438.3L387.2 437.9L387.8 437.5L388.4 436.8L389.0 436.3L389.6 436.1L390.2 435.7L390.8 435.2L391.4 434.5L392.0 433.9L392.6 433.3L393.2 432.8L393.8 432.3L394.4 431.7L395.0 431.0L395.6 430.3L396.2 429.8L396.8 429.4L397.4 428.9L398.0 428.4L398.6 427.9L399.1 427.5L399.7 427.2L400.3 426.8L400.9 426.3L401.5 425.7L402.0 425.0L402.6 424.4L403.2 423.7L403.7 423.0L404.3 422.0L404.9 421.4L405.4 420.9L406.0 420.3L406.6 419.4L407.1 418.7L407.7 418.3L408.2 418.1L408.8 417.7L409.3 417.1L409.9 416.4L410.4 415.6L411.0 414.9L411.5 414.3L412.1 413.6L412.6 413.1L413.1 412.6L413.7 412.0L414.2 411.6L414.7 411.2L415.3 410.8L415.8 410.4L416.3 409.9L416.8 409.3L417.4 408.6L417.9 407.9L418.4 407.1L418.9 406.4L419.4 405.8L419.9 405.2L420.4 404.6L420.9 404.1L421.4 403.6L421.9 403.1L422.4 402.7L422.9 402.2L423.4 401.6L423.9 401.1L424.4 400.5L424.9 399.9L425.4 399.0L425.9 398.1L426.4 397.2L426.9 396.5L427.4 395.8L427.8 395.1L428.3 394.7L428.8 394.2L429.3 393.6L429.7 392.8L430.2 392.4L430.7 391.8L431.2 391.2L431.6 390.2L432.1 389.4L432.6 388.7L433.0 388.1L433.5 387.4L434.0 386.6L434.4 386.1L434.9 385.5L435.3 385.0L435.8 384.5L436.2 384.0L436.7 383.4L437.1 382.8L437.6 382.3L438.0 381.7L438.5 380.7L438.9 379.9L439.4 379.5L439.8 379.1L440.3 378.4L440.7 377.7L441.1 377.2L441.6 376.7L442.0 376.0L442.5 375.1L442.9 374.2L443.3 373.7L443.8 373.1L444.2 372.4L444.6 371.4L445.1 370.8L445.5 370.1L445.9 369.3L446.3 368.5L446.8 368.0L447.2 367.7L447.6 367.1L448.0 366.2L448.5 365.3L448.9 364.5L449.3 363.9L449.7 363.3L450.1 362.8L450.5 362.3L451.0 361.8L451.4 361.2L451.8 360.6L452.2 359.8L452.6 359.0L453.0 358.2L453.4 357.5L453.9 356.5L454.3 355.7L454.7 354.9L455.1 354.3L455.5 353.7L455.9 353.2L456.3 352.6L456.7 351.8L457.1 351.1L457.5 350.6L457.9 350.0L458.3 349.5L458.7 348.6L459.1 347.9L459.5 347.1L459.9 346.6L460.3 345.7L460.7 344.9L461.1 344.2L461.5 343.6L461.9 342.8L462.3 342.0L462.7 341.4L463.1 340.9L463.5 340.3L463.9 339.5L464.3 338.8L464.7 338.1L465.1 337.5L465.5 336.9L465.9 336.1L466.3 335.3L466.7 334.7L467.1 334.1L467.5 333.1L467.9 332.1L468.3 331.4L468.7 330.6L469.1 329.8L469.5 329.1L469.9 328.5L470.2 327.9L470.6 327.2L471.0 326.9L471.4 326.4L471.8 325.7L472.2 324.8L472.6 324.1L473.0 323.4L473.4 322.8L473.8 322.3L474.2 321.4L474.6 320.5L475.0 319.7L475.4 319.0L475.8 318.2L476.1 317.4L476.5 316.7L476.9 316.2L477.3 315.5L477.7 314.6L478.1 313.6L478.5 312.7L478.9 312.1L479.3 311.5L479.7 310.8L480.1 310.0L480.5 309.3L480.8 308.6L481.2 307.9L481.6 307.1L482.0 306.3L482.4 305.5L482.8 304.9L483.2 304.4L483.5 303.9L483.9 303.3L484.3 302.9L484.7 302.5L485.1 301.7L485.5 300.8L485.8 300.1L486.2 299.5L486.6 298.9L487.0 298.1L487.3 297.3L487.7 296.4L488.1 295.6L488.5 294.8L488.8 294.3L489.2 293.6L489.6 292.9L489.9 292.1L490.3 291.6L490.7 291.1L491.0 290.6L491.4 290.1L491.7 289.5L492.1 288.9L492.5 288.2L492.8 287.4L493.2 286.7L493.5 285.9L493.9 285.2L494.2 284.4L494.6 283.6L495.0 282.5L495.3 281.5L495.7 280.6L496.0 279.7L496.4 278.8L496.7 277.9L497.0 277.1L497.4 276.6L497.7 276.0L498.1 275.4L498.4 274.8L498.8 274.2L499.1 273.5L499.5 272.8L499.8 272.2L500.1 271.4L500.5 270.7L500.8 270.1L501.2 269.5L501.5 268.7L501.8 267.7L502.2 266.8L502.5 266.0L502.8 265.1L503.2 264.5L503.5 263.9L503.8 263.4L504.2 262.4L504.5 261.6L504.8 261.1L505.2 260.5L505.5 259.7L505.8 258.7L506.2 258.1L506.5 257.3L506.8 256.5L507.1 255.6L507.5 254.9L507.8 254.1L508.1 253.4L508.4 252.8L508.8 252.1L509.1 251.4L509.4 250.8L509.7 250.3L510.1 249.6L510.4 248.9L510.7 248.0L511.0 247.6L511.4 247.2L511.7 246.5L512.0 245.6L512.3 244.9L512.6 244.3L513.0 243.6L513.3 242.8L513.6 242.1L513.9 241.5L514.3 240.8L514.6 240.0L514.9 239.1L515.2 238.0L515.5 237.0L515.9 236.2L516.2 235.6L516.5 234.9L516.8 234.1L517.1 233.0L517.4 231.9L517.8 231.0L518.1 230.4L518.4 229.7L518.7 228.8L519.0 227.9L519.4 227.3L519.7 226.7L520.0 226.1L520.3 225.5L520.6 225.2L521.0 224.6L521.3 223.8L521.6 223.0L521.9 222.4L522.2 221.7L522.5 220.9L522.9 219.9L523.2 219.3L523.5 218.8L523.8 218.1L524.1 217.3L524.5 216.5L524.8 215.5L525.1 214.5L525.4 213.8L525.7 213.1L526.0 212.3L526.4 211.5L526.7 210.9L527.0 210.2L527.3 209.3L527.6 208.5L528.0 207.8L528.3 207.2L528.6 206.7L528.9 206.3L529.2 205.7L529.6 204.8L529.9 203.9L530.2 203.1L530.5 202.5L530.8 201.8L531.2 201.2L531.5 200.3L531.8 199.4L532.1 198.6L532.5 197.9L532.8 197.2L533.1 196.4L533.4 195.8L533.7 195.0L534.1 194.2L534.4 193.5L534.7 192.9L535.0 192.3L535.4 191.6L535.7 191.0L536.0 190.3L536.3 189.5L536.7 188.9L537.0 188.4L537.3 187.7L537.6 187.0L538.0 186.1L538.3 185.2L538.6 184.4L539.0 183.7L539.3 183.0L539.6 182.4L539.9 181.8L540.3 180.9L540.6 180.0L540.9 179.3L541.3 178.7L541.6 178.1L541.9 177.4L542.3 176.9L542.6 176.3L542.9 175.7L543.3 175.0L543.6 174.2L543.9 173.3L544.3 172.5L544.6 171.7L544.9 171.0L545.3 170.2L545.6 169.3L545.9 168.6L546.3 168.0L546.6 167.4L547.0 166.5L547.3 165.6L547.6 164.7L548.0 163.9L548.3 163.1L548.7 162.4L549.0 161.8L549.4 161.2L549.7 160.5L550.1 159.7L550.4 159.0L550.7 158.3L551.1 157.7L551.4 157.1L551.8 156.3L552.1 155.6L552.5 155.0L552.8 154.2L553.2 153.5L553.5 152.7L553.9 152.0L554.2 151.4L554.6 150.8L555.0 150.0L555.3 149.3L555.7 148.7L556.0 148.2L556.4 147.4L556.7 146.5L557.1 145.7L557.5 145.1L557.8 144.4L558.2 143.6L558.5 143.0L558.9 142.2L559.3 141.3L559.6 140.6L560.0 140.0L560.4 139.3L560.7 138.5L561.1 138.0L561.5 137.5L561.8 136.8L562.2 135.9L562.6 135.1L563.0 134.4L563.3 133.8L563.7 133.2L564.1 132.5L564.5 131.8L564.8 131.1L565.2 130.4L565.6 129.7L566.0 128.8L566.4 128.0L566.7 127.2L567.1 126.6L567.5 125.9L567.9 125.3L568.3 124.5L568.7 123.8L569.0 123.1L569.4 122.4L569.8 121.6L570.2 120.9L570.6 120.3L571.0 119.5L571.4 118.7L571.8 118.0L572.2 117.4L572.6 116.9L573.0 116.3L573.4 115.7L573.8 115.0L574.2 114.1L574.6 113.3L575.0 112.7L575.4 112.1L575.8 111.4L576.2 110.7L576.6 110.2L577.0 109.5L577.4 108.7L577.9 108.1L578.3 107.5L578.7 106.8L579.1 105.9L579.5 105.1L579.9 104.5L580.3 103.9L580.8 103.2L581.2 102.5L581.6 101.8L582.0 101.1L582.5 100.4L582.9 99.5L583.3 98.7L583.7 98.1L584.2 97.5L584.6 96.8L585.0 96.1L585.5 95.5L585.9 94.8L586.4 94.1L586.8 93.4L587.2 92.7L587.7 92.1L588.1 91.4L588.6 90.6L589.0 89.8L589.4 89.2L589.9 88.5L590.3 87.9L590.8 87.3L591.2 86.6L591.7 85.9L592.2 85.2L592.6 84.6L593.1 84.0L593.5 83.3L594.0 82.5L594.5 81.8L594.9 81.1L595.4 80.5L595.9 79.8L596.3 79.1L596.8 78.4L597.3 77.8L597.8 77.2L598.3 76.6L598.8 76.0L599.3 75.4L599.8 74.8L600.3 74.2L600.8 73.6L601.3 72.9L601.8 72.3L602.3 71.7L602.8 71.0L603.3 70.4L603.9 69.8L604.4 69.2L604.9 68.6L605.5 68.1L606.0 67.5L606.6 66.9L607.1 66.4L607.7 65.8L608.3 65.3L608.8 64.7L609.4 64.1L610.0 63.6L610.6 63.1L611.2 62.5L611.8 62.0L612.4 61.5L613.0 61.0L613.6 60.5L614.3 60.0L614.9 59.5L615.5 59.0L616.2 58.6L616.8 58.2L617.5 57.8L618.1 57.4L618.8 57.0L619.5 56.6L620.2 56.2L620.8 55.8L621.5 55.4L622.2 55.0L622.9 54.6L623.6 54.2L624.4 53.9L625.1 53.5L625.8 53.2L626.5 52.8L627.2 52.5L628.0 52.2L628.7 51.9L629.5 51.6L630.2 51.3L630.9 51.0L631.7 50.8L632.5 50.5L633.2 50.2L634.0 50.0L634.7 49.7L635.5 49.5L636.3 49.3L637.0 49.0L637.8 48.8L638.6 48.6L639.3 48.4L640.1 48.2L640.9 48.0L641.7 47.8L642.4 47.7L643.2 47.5L644.0 47.3L644.8 47.1L645.6 47.0L646.4 46.8L647.1 46.7L647.9 46.6L648.7 46.4L649.5 46.3L650.3 46.2L651.1 46.0L651.9 45.9L652.7 45.8L653.4 45.7L654.2 45.6L655.0 45.5L655.8 45.4L656.6 45.3L657.4 45.3L658.2 45.2L659.0 45.1L659.8 45.0L660.6 45.0L661.4 44.9L662.2 44.9L663.0 44.8L663.8 44.7L664.6 44.7L665.4 44.6L666.2 44.6L667.0 44.6L667.8 44.5L668.6 44.5L669.4 44.5L670.2 44.4L671.0 44.4L671.8 44.4L672.6 44.3L673.4 44.3L674.2 44.3L675.0 44.3L675.8 44.3L676.6 44.2L677.4 44.2L678.2 44.2L679.0 44.2L679.8 44.2L680.6 44.2L681.4 44.2L682.2 44.2L683.0 44.1L683.9 44.1L684.7 44.1L685.5 44.1L686.3 44.1L687.1 44.1L687.9 44.1L688.7 44.1L689.5 44.1L690.3 44.1L691.1 44.1L691.9 44.1L692.7 44.0L693.5 44.0L694.3 44.0L695.1 44.0L695.9 44.0L696.7 44.0L697.5 44.0L698.3 44.0L699.1 44.0L699.9 44.0L700.7 44.0L701.5 44.0L702.3 44.0L703.1 44.0L703.9 44.0L704.7 43.9L705.5 43.9L706.3 43.9L707.1 43.9L707.9 43.9L708.7 43.9L709.5 43.9L710.3 43.9L711.1 43.9L711.9 43.9L712.7 43.9L713.5 43.9L714.3 43.9L715.1 43.9L715.9 43.9L716.7 43.9L717.5 43.9L718.3 43.9L719.1 43.9L719.9 43.9L720.7 43.9L721.5 43.8L722.3 43.8L723.1 43.8L723.9 43.8L724.7 43.8L725.5 43.8L726.3 43.8L727.1 43.8L727.9 43.8L728.7 43.8L729.5 43.8L730.3 43.8L731.1 43.8L731.9 43.8L732.7 43.8L733.5 43.8L734.3 43.8L735.1 43.8L735.9 43.8L736.7 43.8L737.5 43.8L738.3 43.8L739.1 43.8L739.9 43.8L740.7 43.8L741.5 43.8L742.3 43.8L743.1 43.8L743.9 43.8L744.7 43.8L745.5 43.8L746.3 43.8L747.1 43.8L747.9 43.8L748.7 43.8L749.5 43.8L750.3 43.8L751.1 43.8L751.9 43.8L752.7 43.8L753.5 43.8L754.3 43.8L755.1 43.8L755.9 43.8L756.7 43.8L757.5 43.8L758.3 43.8L759.1 43.8L759.9 43.9L760.0 43.9L760.8 43.9L761.6 43.9L762.4 43.9L763.2 43.9L764.0 43.9L764.8 43.9L765.6 43.9L766.4 43.9L767.2 43.9L768.0 43.9L768.8 43.9L769.6 43.9L770.4 43.9L771.2 43.9L772.0 43.9L772.8 43.9L773.6 43.9L774.4 43.9L775.2 43.9L776.0 43.9L776.8 43.9L777.6 43.9L778.4 43.9L779.2 43.9L780.0 43.9L780.8 43.9L781.6 43.9L782.4 43.9L783.2 43.9L784.0 43.9L784.8 43.9L785.6 43.9L786.4 43.9L787.2 43.9L788.0 43.9L788.8 43.9L789.6 43.9L790.4 43.9L791.2 43.9L792.0 43.9L792.8 43.9L793.6 43.9L794.4 43.9L795.2 43.9L796.0 43.9L796.8 43.9L797.6 43.9L798.4 43.9L799.2 43.9L800.0 43.9L800.8 43.9L801.6 43.9L802.4 43.9L803.2 43.9L804.0 43.9L804.8 43.9L805.6 43.9L806.4 43.9L807.2 43.9L808.0 43.9L808.8 43.9L809.6 43.9L810.4 43.9L811.2 43.9L812.0 43.9L812.8 43.9L813.6 43.9L814.4 43.9L815.2 43.9L816.0 43.9L816.8 43.9L817.6 43.9L818.4 43.9L819.2 43.9L820.0 43.9L820.8 43.9L821.6 43.9L822.4 43.9L823.2 43.9L824.0 43.9L824.8 43.9L825.6 43.9L826.4 43.9L827.2 43.9L828.0 43.9L828.8 43.9L829.6 43.9L830.4 43.9L831.2 43.9L832.0 43.9L832.8 43.9L833.6 43.9L834.4 43.9L835.2 43.9L836.0 43.9L836.8 43.9L837.6 43.9L838.4 43.9L839.2 43.9L840.0 43.9L840.8 43.9L841.6 43.9L842.4 43.9L843.2 43.9L844.0 43.9L844.8 43.9L845.6 43.9L846.4 43.9L847.2 43.9L848.0 43.9L848.8 43.9L849.6 43.9L850.4 43.9L851.2 43.9L852.0 43.9L852.8 43.9L853.6 43.9L854.4 43.9L855.2 43.9L856.0 43.9L856.8 43.9L857.6 43.9L858.4 43.9L859.2 43.9L860.0 43.9L860.8 43.9L861.6 43.9L862.4 43.9L863.2 43.9L864.0 43.9L864.8 43.9L865.6 43.9L866.4 43.9L867.2 43.9L868.0 43.9L868.8 43.9L869.6 43.9L870.4 43.9L871.2 43.9L872.0 43.9L872.8 43.9L873.6 43.9L874.4 43.9L875.2 43.9L876.0 43.9L876.8 43.9L877.6 43.9L878.4 43.9L879.2 43.9L880.0 43.9L880.8 43.9L881.6 43.9L882.4 43.9L883.2 43.9L884.0 43.9L884.8 43.9L885.6 43.9L886.4 43.9L887.2 43.9L888.0 43.9L888.8 43.9L889.6 43.9L890.4 43.9L891.2 43.9L892.0 43.9L892.8 43.9L893.6 43.9L894.4 43.9L895.2 43.9L896.0 43.9L896.8 43.9L897.6 43.9L898.4 43.9L899.2 43.9L900.0 43.9L900.8 43.9L901.6 43.9L902.4 43.9L903.2 43.9L904.0 43.9L904.8 43.9L905.6 43.9L906.4 43.9L907.2 43.9L908.0 43.9L908.8 43.9L909.6 43.9L910.4 43.9L911.2 43.9L912.0 43.9L912.8 43.9L913.6 43.9L914.4 43.9L915.2 43.9L916.0 43.9L916.8 43.9L917.6 43.9L918.4 43.9L919.2 43.9L920.0 43.9L920.8 43.9L921.6 43.9L922.4 43.9L923.2 43.9L924.0 43.9L924.8 43.9L925.6 43.9L926.4 43.9L927.2 43.9L928.0 43.9L928.8 43.9L929.6 43.9L930.4 43.9L931.2 43.9L932.0 43.9L932.8 43.9L933.6 43.9L934.4 43.9L935.2 43.9L936.0 43.9L936.8 43.9L937.6 43.9L938.4 43.9L939.2 43.9L940.0 43.9L940.8 43.9L941.6 43.9L942.4 43.9L943.2 43.9L944.0 43.9L944.8 43.9L945.6 43.9L946.4 43.9L947.2 43.9L948.0 43.9L948.8 43.9L949.6 43.9L950.4 43.9L951.2 43.9L952.0 43.9L952.8 43.9L953.6 43.9L954.4 43.9L955.2 43.9L956.0 43.9L956.8 43.9L957.6 43.9L958.4 43.9L959.2 43.9L960.0 43.9L960.8 43.9L961.6 43.9L962.4 43.9L963.2 43.9L964.0 43.9L964.8 43.9L965.6 43.9L966.4 43.9L967.2 43.9L968.0 43.9L968.8 43.9L969.6 43.9L970.4 43.9L971.2 43.9L972.0 43.9L972.8 43.9L973.6 43.9L974.4 43.9L975.2 43.9L976.0 43.9L976.8 43.9L977.6 43.9L978.4 43.9L979.2 43.9L980.0 43.9L980.8 43.9L981.6 43.9L982.4 43.9L983.2 43.9L984.0 43.9L984.8 43.9L985.6 43.9L986.4 43.9L987.2 43.9L988.0 43.9L988.8 43.9L989.6 43.9L990.4 43.9L991.2 43.9L992.0 43.9L992.8 43.9L993.6 43.9L994.4 43.9L994.7 43.9L1000.0 43.9" stroke="#36b436" stroke-width="6.0"/>
<path d="M166.0 623.7L172.5 623.7L173.5 624.3L174.4 624.6L175.2 624.5L176.1 624.7L176.9 624.7L177.6 624.7L178.3 624.5L179.0 624.3L179.7 623.8L180.4 623.3L181.1 622.9L181.7 622.4L182.4 621.6L183.1 620.7L183.7 620.2L184.4 620.1L185.1 620.0L185.8 619.7L186.6 619.6L187.3 619.4L188.1 619.3L188.8 619.1L189.6 619.1L190.4 619.1L191.2 618.7L192.0 618.5L192.8 618.3L193.6 618.2L194.4 618.1L195.2 617.8L196.0 617.4L196.8 617.2L197.6 617.4L198.5 617.6L199.3 617.7L200.1 617.7L200.9 618.0L201.7 618.1L202.5 618.3L203.3 618.3L204.1 618.3L204.9 618.4L205.7 618.6L206.5 618.4L207.3 618.1L208.1 618.0L208.9 618.1L209.7 617.8L210.4 617.6L211.2 617.4L212.0 617.4L212.8 617.3L213.6 617.5L214.3 617.7L215.1 617.8L215.9 617.4L216.7 617.5L217.4 617.6L218.2 617.6L219.0 617.1L219.8 616.8L220.5 616.6L221.3 616.3L222.1 616.1L222.9 616.0L223.6 615.7L224.4 615.2L225.2 615.0L226.0 615.1L226.7 615.0L227.5 614.8L228.3 614.4L229.1 614.3L229.8 614.1L230.6 613.9L231.4 613.6L232.2 613.4L233.0 613.3L233.7 613.3L234.5 613.0L235.3 612.6L236.1 612.5L236.9 612.7L237.7 612.5L238.4 612.2L239.2 611.9L240.0 611.7L240.8 611.4L241.6 611.2L242.4 611.1L243.2 611.2L244.0 610.9L244.7 610.6L245.5 610.5L246.3 610.7L247.1 610.7L247.9 610.5L248.7 610.4L249.5 610.3L250.3 610.1L251.1 610.0L251.9 610.3L252.7 610.7L253.5 610.7L254.3 610.6L255.1 610.4L255.9 610.3L256.6 610.1L257.4 609.8L258.2 609.6L259.0 609.5L259.8 609.4L260.6 609.3L261.4 609.3L262.2 609.4L263.0 609.5L263.8 609.5L264.6 609.5L265.4 609.7L266.2 609.8L267.0 609.8L267.8 609.7L268.6 609.5L269.4 609.3L270.2 609.1L271.0 608.8L271.8 608.3L272.6 607.9L273.4 607.7L274.2 607.3L274.9 607.0L275.7 606.6L276.5 606.5L277.3 606.4L278.1 606.3L278.8 606.1L279.6 605.9L280.4 605.8L281.1 605.6L281.8 605.4L282.5 605.1L283.2 604.9L283.9 604.4L284.5 604.2L285.2 603.6L285.8 603.3L286.5 602.7L287.1 602.1L287.8 601.7L288.5 601.5L289.3 601.2L290.0 600.7L290.8 600.4L291.5 600.3L292.3 600.1L293.1 600.2L293.9 600.1L294.6 600.0L295.4 599.8L296.2 599.7L297.0 599.5L297.8 599.0L298.6 598.6L299.4 598.0L300.2 597.7L300.9 597.5L301.7 597.0L302.4 596.5L303.2 595.9L303.9 595.6L304.6 595.3L305.3 594.9L306.1 594.6L306.8 594.3L307.5 594.1L308.2 593.7L308.8 593.4L309.5 593.1L310.2 592.6L310.9 592.1L311.6 591.5L312.3 591.1L312.9 590.7L313.6 590.5L314.3 590.2L315.0 590.1L315.7 589.9L316.3 589.5L317.0 589.1L317.7 588.8L318.4 588.6L319.1 588.2L319.8 587.6L320.4 586.9L321.1 586.4L321.8 585.9L322.5 585.6L323.2 585.4L323.9 584.9L324.5 584.3L325.2 583.9L325.9 583.6L326.6 583.3L327.3 583.0L328.0 582.9L328.6 582.7L329.3 582.3L330.0 582.0L330.7 581.6L331.4 581.1L332.0 580.3L332.7 580.0L333.4 579.6L334.1 579.2L334.7 578.6L335.4 578.4L336.1 577.9L336.8 577.2L337.4 576.7L338.1 576.4L338.8 576.2L339.4 576.1L340.1 576.0L340.8 575.7L341.4 575.1L342.1 575.0L342.8 574.6L343.4 574.2L344.1 573.4L344.7 572.8L345.4 572.3L346.1 571.8L346.7 571.2L347.4 570.5L348.0 570.1L348.6 569.8L349.3 569.4L349.9 569.0L350.6 568.4L351.2 568.1L351.9 567.7L352.5 567.2L353.1 566.4L353.8 565.8L354.4 565.0L355.0 564.2L355.6 563.5L356.3 563.1L356.9 562.8L357.5 562.4L358.1 561.7L358.7 561.0L359.3 560.3L359.9 559.8L360.5 559.5L361.1 559.2L361.7 558.7L362.3 558.2L362.9 557.8L363.5 557.4L364.1 556.9L364.7 556.4L365.3 555.7L365.8 555.1L366.4 554.3L367.0 553.7L367.6 553.3L368.1 552.9L368.7 552.3L369.2 551.9L369.8 551.5L370.4 550.7L370.9 549.8L371.5 549.0L372.0 548.4L372.6 548.0L373.1 547.2L373.6 546.4L374.2 545.6L374.7 545.0L375.2 544.7L375.8 544.5L376.3 544.2L376.8 543.7L377.4 543.0L377.9 542.1L378.4 541.5L378.9 541.1L379.4 540.5L379.9 539.6L380.4 538.9L380.9 538.3L381.4 537.9L381.9 537.2L382.4 536.5L382.9 535.7L383.4 535.1L383.9 534.5L384.4 533.8L384.9 532.8L385.4 531.9L385.9 531.4L386.4 531.0L386.8 530.6L387.3 530.1L387.8 529.5L388.3 528.7L388.7 528.0L389.2 527.4L389.7 526.7L390.1 525.9L390.6 525.1L391.1 524.5L391.5 523.7L392.0 522.8L392.4 521.9L392.9 521.4L393.3 520.9L393.8 520.3L394.2 519.7L394.7 519.0L395.1 518.5L395.6 518.2L396.0 517.5L396.4 516.9L396.9 516.1L397.3 515.7L397.7 514.8L398.2 514.1L398.6 513.3L399.0 512.6L399.5 511.9L399.9 511.0L400.3 509.8L400.7 508.9L401.1 508.6L401.6 508.0L402.0 507.0L402.4 506.0L402.8 505.5L403.2 505.4L403.6 505.0L404.0 504.1L404.5 503.4L404.9 502.7L405.3 502.0L405.7 501.1L406.1 500.5L406.5 499.9L406.9 499.2L407.3 498.6L407.7 498.1L408.1 497.8L408.5 497.3L408.9 496.6L409.2 495.7L409.6 494.9L410.0 494.3L410.4 493.8L410.8 493.0L411.2 492.4L411.6 491.6L412.0 491.1L412.3 490.6L412.7 490.1L413.1 489.4L413.5 488.6L413.9 487.9L414.2 487.2L414.6 486.5L415.0 485.6L415.4 485.0L415.7 484.2L416.1 483.5L416.5 482.6L416.8 481.9L417.2 481.0L417.6 480.2L417.9 479.3L418.3 478.6L418.7 478.1L419.0 477.5L419.4 476.8L419.8 475.8L420.1 475.1L420.5 474.5L420.9 473.9L421.2 473.1L421.6 472.3L421.9 471.6L422.3 471.1L422.6 470.5L423.0 469.7L423.4 468.7L423.7 467.9L424.1 467.2L424.4 466.3L424.8 465.5L425.1 464.9L425.5 464.3L425.8 463.7L426.2 462.9L426.5 461.9L426.9 460.9L427.2 460.2L427.6 459.5L427.9 458.8L428.3 457.9L428.6 457.3L429.0 456.6L429.3 456.0L429.7 455.4L430.0 454.8L430.4 454.2L430.7 453.5L431.1 452.9L431.4 452.0L431.7 451.0L432.1 450.1L432.4 449.6L432.8 449.2L433.1 448.4L433.5 447.5L433.8 447.0L434.2 446.6L434.5 446.1L434.8 445.5L435.2 444.5L435.5 443.6L435.9 442.9L436.2 442.3L436.6 441.3L436.9 440.5L437.2 439.7L437.6 439.1L437.9 438.6L438.3 437.9L438.6 437.1L439.0 436.3L439.3 435.4L439.6 434.8L440.0 434.2L440.3 433.6L440.7 432.7L441.0 432.0L441.4 431.4L441.7 430.7L442.0 430.0L442.4 429.3L442.7 428.9L443.1 428.2L443.4 427.6L443.7 427.1L444.1 426.5L444.4 425.7L444.8 424.9L445.1 424.2L445.4 423.3L445.8 422.4L446.1 421.5L446.5 420.7L446.8 420.0L447.1 419.3L447.5 418.6L447.8 417.7L448.2 416.6L448.5 415.8L448.8 415.3L449.2 414.9L449.5 414.2L449.9 413.4L450.2 412.6L450.5 412.2L450.9 411.6L451.2 411.0L451.5 410.1L451.9 409.4L452.2 408.7L452.6 407.9L452.9 407.0L453.2 406.1L453.6 405.6L453.9 404.9L454.2 404.0L454.6 402.9L454.9 401.9L455.2 400.8L455.6 400.0L455.9 399.3L456.2 398.8L456.6 397.9L456.9 397.1L457.2 396.4L457.6 395.9L457.9 395.2L458.2 394.6L458.5 393.9L458.9 393.3L459.2 392.7L459.5 392.2L459.9 391.6L460.2 390.7L460.5 389.6L460.8 388.8L461.2 388.2L461.5 387.5L461.8 386.6L462.2 385.8L462.5 385.1L462.8 384.6L463.1 383.8L463.5 383.1L463.8 382.4L464.1 381.9L464.4 381.1L464.8 380.2L465.1 379.5L465.4 379.1L465.7 378.7L466.1 378.2L466.4 377.3L466.7 376.5L467.0 375.6L467.3 375.0L467.7 374.3L468.0 373.6L468.3 372.8L468.6 372.2L468.9 371.7L469.3 371.1L469.6 370.5L469.9 369.7L470.2 368.7L470.5 367.7L470.9 366.8L471.2 365.8L471.5 365.0L471.8 364.3L472.1 363.6L472.4 362.7L472.8 362.0L473.1 361.1L473.4 360.4L473.7 359.8L474.0 359.2L474.3 358.3L474.6 357.5L475.0 356.9L475.3 356.1L475.6 355.2L475.9 354.4L476.2 353.6L476.5 353.1L476.8 352.4L477.1 351.9L477.5 351.4L477.8 350.7L478.1 349.8L478.4 349.0L478.7 348.3L479.0 347.7L479.3 346.9L479.6 345.9L479.9 345.2L480.2 344.7L480.6 344.0L480.9 343.1L481.2 342.2L481.5 341.4L481.8 340.5L482.1 339.7L482.4 339.0L482.7 338.3L483.0 337.5L483.3 336.8L483.6 336.1L483.9 335.2L484.2 334.3L484.5 333.4L484.8 332.6L485.1 331.9L485.4 331.3L485.7 330.6L486.0 329.8L486.3 329.0L486.7 328.4L487.0 327.7L487.3 327.1L487.6 326.4L487.9 325.6L488.2 324.9L488.5 324.1L488.8 323.4L489.1 323.0L489.4 322.4L489.7 321.6L490.0 320.9L490.3 320.1L490.6 319.1L490.8 318.3L491.1 317.6L491.4 316.5L491.7 315.7L492.0 315.0L492.3 314.5L492.6 313.8L492.9 313.5L493.2 312.9L493.5 312.2L493.8 311.2L494.1 310.3L494.4 309.4L494.7 308.8L495.0 308.2L495.3 307.4L495.6 306.7L495.9 306.0L496.2 305.1L496.5 304.2L496.7 303.3L497.0 302.7L497.3 302.0L497.6 301.2L497.9 300.3L498.2 299.5L498.5 298.7L498.8 298.1L499.1 297.7L499.4 297.4L499.7 296.9L499.9 296.1L500.2 295.2L500.5 294.3L500.8 293.5L501.1 292.8L501.4 291.9L501.7 291.1L502.0 290.2L502.2 289.4L502.5 288.6L502.8 287.9L503.1 286.9L503.4 286.0L503.7 285.2L504.0 284.4L504.2 283.8L504.5 283.1L504.8 282.6L505.1 281.8L505.4 281.1L505.7 280.3L506.0 279.7L506.2 279.0L506.5 278.2L506.8 277.5L507.1 276.9L507.4 276.1L507.7 275.2L508.0 274.4L508.2 273.6L508.5 272.9L508.8 272.3L509.1 271.5L509.4 270.5L509.7 269.7L509.9 269.0L510.2 268.3L510.5 267.5L510.8 267.0L511.1 266.3L511.4 265.8L511.6 264.9L511.9 264.1L512.2 263.3L512.5 262.6L512.8 261.5L513.1 260.6L513.3 259.7L513.6 259.1L513.9 258.4L514.2 257.6L514.5 256.7L514.8 256.0L515.0 255.2L515.3 254.4L515.6 253.7L515.9 252.9L516.2 252.3L516.5 251.9L516.7 251.5L517.0 250.8L517.3 250.1L517.6 249.2L517.9 248.4L518.2 247.5L518.4 246.8L518.7 246.3L519.0 245.6L519.3 244.8L519.6 243.9L519.9 243.1L520.1 242.3L520.4 241.8L520.7 241.2L521.0 240.6L521.3 240.0L521.6 239.3L521.9 238.5L522.1 237.6L522.4 236.7L522.7 235.7L523.0 234.8L523.3 234.1L523.6 233.4L523.9 232.6L524.1 231.9L524.4 231.4L524.7 230.7L525.0 229.9L525.3 229.3L525.6 228.8L525.9 228.2L526.2 227.2L526.5 226.2L526.7 225.4L527.0 224.7L527.3 224.0L527.6 223.2L527.9 222.5L528.2 222.1L528.5 221.5L528.8 220.8L529.1 219.9L529.4 219.1L529.7 218.3L529.9 217.5L530.2 216.8L530.5 216.0L530.8 215.1L531.1 214.1L531.4 213.2L531.7 212.3L532.0 211.6L532.3 210.8L532.6 210.1L532.9 209.5L533.2 209.1L533.5 208.5L533.8 208.0L534.1 207.6L534.4 207.1L534.7 206.4L535.0 205.6L535.3 204.8L535.6 203.8L535.9 203.1L536.2 202.4L536.5 201.8L536.8 200.9L537.1 200.2L537.4 199.4L537.7 198.4L538.0 197.5L538.3 196.7L538.6 195.9L538.9 195.1L539.2 194.3L539.5 193.6L539.8 192.9L540.1 192.2L540.4 191.6L540.7 190.9L541.0 190.3L541.3 189.4L541.7 188.6L542.0 187.8L542.3 187.0L542.6 186.4L542.9 185.6L543.2 184.9L543.5 184.1L543.8 183.4L544.1 182.6L544.5 181.5L544.8 180.7L545.1 180.2L545.4 179.7L545.7 179.1L546.0 178.6L546.4 178.0L546.7 177.2L547.0 176.5L547.3 175.7L547.6 174.6L548.0 173.5L548.3 172.7L548.6 172.1L548.9 171.1L549.2 170.2L549.6 169.3L549.9 168.5L550.2 167.8L550.5 167.1L550.9 166.4L551.2 165.7L551.5 165.1L551.9 164.4L552.2 163.9L552.5 163.3L552.8 162.7L553.2 161.9L553.5 161.4L553.8 160.7L554.2 159.9L554.5 159.0L554.8 158.1L555.2 157.5L555.5 156.9L555.9 156.3L556.2 155.6L556.5 154.9L556.9 154.2L557.2 153.5L557.6 152.9L557.9 152.0L558.2 151.3L558.6 150.5L558.9 149.8L559.3 149.1L559.6 148.3L560.0 147.5L560.3 146.5L560.7 145.7L561.0 144.8L561.4 144.2L561.7 143.4L562.1 142.6L562.4 141.6L562.8 140.7L563.1 140.0L563.5 139.5L563.8 139.0L564.2 138.5L564.6 137.8L564.9 137.1L565.3 136.4L565.6 135.8L566.0 135.1L566.4 134.4L566.7 133.6L567.1 132.9L567.5 132.1L567.8 131.3L568.2 130.5L568.6 129.8L568.9 129.0L569.3 128.0L569.7 127.2L570.1 126.6L570.4 126.0L570.8 125.4L571.2 124.6L571.6 123.9L571.9 123.3L572.3 122.6L572.7 121.8L573.1 121.2L573.5 120.6L573.8 120.0L574.2 119.2L574.6 118.5L575.0 117.8L575.4 117.1L575.8 116.4L576.1 115.7L576.5 114.9L576.9 114.1L577.3 113.5L577.7 112.8L578.1 112.2L578.5 111.6L578.9 111.0L579.3 110.1L579.7 109.4L580.1 108.7L580.5 108.0L580.9 107.1L581.3 106.4L581.7 105.7L582.1 104.9L582.5 104.2L582.9 103.5L583.3 102.8L583.7 102.1L584.1 101.4L584.5 100.7L584.9 100.0L585.3 99.3L585.7 98.5L586.1 97.9L586.5 97.3L586.9 96.6L587.3 95.9L587.7 95.3L588.1 94.6L588.5 93.9L589.0 93.3L589.4 92.6L589.8 91.9L590.2 91.2L590.6 90.5L591.0 89.8L591.4 89.0L591.9 88.3L592.3 87.6L592.7 86.9L593.1 86.3L593.5 85.7L594.0 85.0L594.4 84.4L594.8 83.9L595.2 83.3L595.7 82.7L596.1 82.1L596.5 81.4L596.9 80.8L597.4 80.1L597.8 79.5L598.3 78.9L598.7 78.4L599.2 77.7L599.6 77.0L600.1 76.3L600.6 75.8L601.0 75.2L601.5 74.6L602.0 73.9L602.5 73.3L603.0 72.7L603.5 72.1L604.0 71.5L604.5 71.0L605.0 70.4L605.5 70.0L606.1 69.4L606.6 68.9L607.1 68.3L607.7 67.8L608.3 67.3L608.8 66.8L609.4 66.2L610.0 65.6L610.6 65.0L611.2 64.6L611.8 64.1L612.4 63.5L613.1 63.0L613.7 62.5L614.3 61.9L615.0 61.4L615.7 60.9L616.3 60.5L617.0 60.0L617.7 59.4L618.3 58.9L619.0 58.5L619.7 58.0L620.4 57.6L621.1 57.2L621.8 56.7L622.5 56.3L623.2 55.9L624.0 55.5L624.7 55.0L625.4 54.6L626.1 54.2L626.9 53.8L627.6 53.5L628.3 53.1L629.1 52.8L629.8 52.4L630.6 52.1L631.3 51.7L632.1 51.4L632.8 51.1L633.6 50.7L634.3 50.4L635.1 50.1L635.9 49.9L636.6 49.6L637.4 49.3L638.1 49.0L638.9 48.8L639.7 48.5L640.4 48.3L641.2 48.1L642.0 47.9L642.7 47.7L643.5 47.5L644.3 47.3L645.0 47.1L645.8 46.9L646.6 46.8L647.3 46.6L648.1 46.5L648.9 46.3L649.7 46.2L650.4 46.0L651.2 45.9L652.0 45.8L652.8 45.7L653.5 45.6L654.3 45.5L655.1 45.4L655.9 45.3L656.7 45.2L657.5 45.1L658.2 45.0L659.0 45.0L659.8 44.9L660.6 44.8L661.4 44.8L662.2 44.7L663.0 44.7L663.7 44.6L664.5 44.6L665.3 44.6L666.1 44.5L666.9 44.5L667.7 44.5L668.5 44.4L669.3 44.4L670.1 44.4L670.9 44.4L671.7 44.4L672.4 44.4L673.2 44.3L674.0 44.3L674.8 44.3L675.6 44.3L676.4 44.3L677.2 44.3L678.0 44.3L678.8 44.3L679.6 44.3L680.4 44.3L681.2 44.3L682.0 44.3L682.8 44.3L683.6 44.3L684.4 44.3L685.2 44.3L686.0 44.3L686.8 44.3L687.6 44.3L688.4 44.3L689.2 44.3L690.0 44.3L690.8 44.3L691.7 44.3L692.5 44.3L693.3 44.3L694.1 44.3L694.9 44.3L695.7 44.2L696.5 44.2L697.3 44.2L698.1 44.2L698.9 44.2L699.7 44.2L700.5 44.2L701.3 44.2L702.1 44.2L702.9 44.2L703.7 44.2L704.5 44.2L705.4 44.1L706.2 44.1L707.0 44.1L707.8 44.1L708.6 44.1L709.4 44.1L710.2 44.1L711.0 44.1L711.8 44.1L712.6 44.1L713.4 44.0L714.2 44.0L715.0 44.0L715.8 44.0L716.7 44.0L717.5 44.0L718.3 44.0L719.1 44.0L719.9 44.0L720.7 43.9L721.5 43.9L722.3 43.9L723.1 43.9L723.9 43.9L724.7 43.9L725.5 43.9L726.3 43.9L727.1 43.9L727.9 43.9L728.7 43.9L729.5 43.9L730.3 43.8L731.1 43.8L731.9 43.8L732.8 43.8L733.6 43.8L734.4 43.8L735.2 43.8L736.0 43.8L736.8 43.8L737.6 43.8L738.4 43.8L739.2 43.8L740.0 43.8L740.8 43.8L741.6 43.8L742.4 43.8L743.2 43.8L744.0 43.8L744.7 43.8L745.5 43.8L746.3 43.8L747.1 43.8L747.9 43.8L748.7 43.8L749.5 43.8L750.3 43.8L751.1 43.8L751.9 43.8L752.7 43.8L753.5 43.9L754.3 43.9L755.1 43.9L755.8 43.9L756.6 43.9L757.4 43.9L758.2 43.9L759.0 43.9L759.8 44.0L760.0 44.0L760.8 44.0L761.6 44.0L762.4 44.0L763.2 44.0L764.0 44.0L764.8 44.0L765.6 44.0L766.4 44.0L767.2 44.0L768.0 44.0L768.8 44.0L769.6 44.0L770.4 44.0L771.2 44.0L772.0 44.0L772.8 44.0L773.6 44.0L774.4 44.0L775.2 44.0L776.0 44.0L776.8 44.0L777.6 44.0L778.4 44.0L779.2 44.0L780.0 44.0L780.8 44.0L781.6 44.0L782.4 44.0L783.2 44.0L784.0 44.0L784.8 44.0L785.6 44.0L786.4 44.0L787.2 44.0L788.0 44.0L788.8 44.0L789.6 44.0L790.4 44.0L791.2 44.0L792.0 44.0L792.8 44.0L793.6 44.0L794.4 44.0L795.2 44.0L796.0 44.0L796.8 44.0L797.6 44.0L798.4 44.0L799.2 44.0L800.0 44.0L800.8 44.0L801.6 44.0L802.4 44.0L803.2 44.0L804.0 44.0L804.8 44.0L805.6 44.0L806.4 44.0L807.2 44.0L808.0 44.0L808.8 44.0L809.6 44.0L810.4 44.0L811.2 44.0L812.0 44.0L812.8 44.0L813.6 44.0L814.4 44.0L815.2 44.0L816.0 44.0L816.8 44.0L817.6 44.0L818.4 44.0L819.2 44.0L820.0 44.0L820.8 44.0L821.6 44.0L822.4 44.0L823.2 44.0L824.0 44.0L824.8 44.0L825.6 44.0L826.4 44.0L827.2 44.0L828.0 44.0L828.8 44.0L829.6 44.0L830.4 44.0L831.2 44.0L832.0 44.0L832.8 44.0L833.6 44.0L834.4 44.0L835.2 44.0L836.0 44.0L836.8 44.0L837.6 44.0L838.4 44.0L839.2 44.0L840.0 44.0L840.8 44.0L841.6 44.0L842.4 44.0L843.2 44.0L844.0 44.0L844.8 44.0L845.6 44.0L846.4 44.0L847.2 44.0L848.0 44.0L848.8 44.0L849.6 44.0L850.4 44.0L851.2 44.0L852.0 44.0L852.8 44.0L853.6 44.0L854.4 44.0L855.2 44.0L856.0 44.0L856.8 44.0L857.6 44.0L858.4 44.0L859.2 44.0L860.0 44.0L860.8 44.0L861.6 44.0L862.4 44.0L863.2 44.0L864.0 44.0L864.8 44.0L865.6 44.0L866.4 44.0L867.2 44.0L868.0 44.0L868.8 44.0L869.6 44.0L870.4 44.0L871.2 44.0L872.0 44.0L872.8 44.0L873.6 44.0L874.4 44.0L875.2 44.0L876.0 44.0L876.8 44.0L877.6 44.0L878.4 44.0L879.2 44.0L880.0 44.0L880.8 44.0L881.6 44.0L882.4 44.0L883.2 44.0L884.0 44.0L884.8 44.0L885.6 44.0L886.4 44.0L887.2 44.0L888.0 44.0L888.8 44.0L889.6 44.0L890.4 44.0L891.2 44.0L892.0 44.0L892.8 44.0L893.6 44.0L894.4 44.0L895.2 44.0L896.0 44.0L896.8 44.0L897.6 44.0L898.4 44.0L899.2 44.0L900.0 44.0L900.8 44.0L901.6 44.0L902.4 44.0L903.2 44.0L904.0 44.0L904.8 44.0L905.6 44.0L906.4 44.0L907.2 44.0L908.0 44.0L908.8 44.0L909.6 44.0L910.4 44.0L911.2 44.0L912.0 44.0L912.8 44.0L913.6 44.0L914.4 44.0L915.2 44.0L916.0 44.0L916.8 44.0L917.6 44.0L918.4 44.0L919.2 44.0L920.0 44.0L920.8 44.0L921.6 44.0L922.4 44.0L923.2 44.0L924.0 44.0L924.8 44.0L925.6 44.0L926.4 44.0L927.2 44.0L928.0 44.0L928.8 44.0L929.6 44.0L930.4 44.0L931.2 44.0L932.0 44.0L932.8 44.0L933.6 44.0L934.4 44.0L935.2 44.0L936.0 44.0L936.8 44.0L937.6 44.0L938.4 44.0L939.2 44.0L940.0 44.0L940.8 44.0L941.6 44.0L942.4 44.0L943.2 44.0L944.0 44.0L944.8 44.0L945.6 44.0L946.4 44.0L947.2 44.0L948.0 44.0L948.8 44.0L949.6 44.0L950.4 44.0L951.2 44.0L952.0 44.0L952.8 44.0L953.6 44.0L954.4 44.0L955.2 44.0L956.0 44.0L956.8 44.0L957.6 44.0L958.4 44.0L959.2 44.0L960.0 44.0L960.8 44.0L961.6 44.0L962.4 44.0L963.2 44.0L964.0 44.0L964.8 44.0L965.6 44.0L966.4 44.0L967.2 44.0L968.0 44.0L968.8 44.0L969.6 44.0L970.4 44.0L971.2 44.0L972.0 44.0L972.8 44.0L973.6 44.0L974.4 44.0L975.2 44.0L976.0 44.0L976.8 44.0L977.6 44.0L978.4 44.0L979.2 44.0L980.0 44.0L980.8 44.0L981.6 44.0L982.4 44.0L983.2 44.0L984.0 44.0L984.8 44.0L985.6 44.0L986.4 44.0L987.2 44.0L988.0 44.0L988.8 44.0L989.6 44.0L990.4 44.0L991.2 44.0L992.0 44.0L992.8 44.0L993.6 44.0L994.4 44.0L994.7 44.0L1000.0 44.0" stroke="#1d58b3" stroke-width="6.0"/>
<path d="M166.0 704.9L166.0 704.9L166.8 704.8L167.5 704.6L168.3 704.6L169.1 704.7L169.9 705.1L170.7 705.3L171.5 705.5L172.4 705.5L173.2 705.6L174.1 705.8L174.9 706.0L175.7 706.1L176.5 706.1L177.3 706.2L178.1 706.7L178.8 707.1L179.5 707.3L180.2 707.7L180.9 708.2L181.5 708.6L182.1 709.0L182.7 709.7L183.2 710.3L183.8 710.9L184.4 711.3L185.0 711.7L185.6 711.9L186.3 711.8L187.0 711.7L187.7 711.6L188.4 711.6L189.2 711.2L190.0 710.8L190.8 710.5L191.6 710.3L192.4 710.1L193.2 709.8L194.0 709.9L194.8 710.1L195.6 710.5L196.4 710.5L197.2 710.6L198.0 710.7L198.7 710.5L199.5 710.3L200.2 710.0L201.0 709.6L201.7 709.1L202.4 709.0L203.1 708.9L203.7 709.0L204.4 709.1L205.0 709.5L205.7 710.2L206.3 710.9L207.0 711.3L207.7 711.6L208.4 712.1L209.2 712.6L209.9 712.9L210.7 713.1L211.5 713.0L212.3 712.7L213.1 712.4L213.9 712.0L214.7 711.4L215.5 710.9L216.3 710.4L217.1 710.1L217.9 709.4L218.6 709.0L219.4 708.5L220.1 708.2L220.8 707.7L221.5 707.3L222.2 707.0L222.9 706.7L223.6 706.5L224.2 706.5L224.9 706.5L225.6 706.0L226.3 705.5L227.0 705.2L227.7 705.0L228.5 704.6L229.2 704.4L230.0 704.2L230.7 704.0L231.5 703.7L232.3 703.3L233.1 703.2L234.0 702.9L234.8 702.7L235.7 702.4L236.5 702.6L237.4 702.8L238.2 702.8L239.0 702.8L239.8 703.0L240.5 703.5L241.2 703.7L241.9 703.7L242.4 703.7L243.0 704.1L243.5 704.8L244.0 705.5L244.5 706.0L245.1 706.3L245.8 706.7L246.6 707.2L247.3 707.8L248.1 708.1L249.0 708.1L249.8 707.8L250.6 707.8L251.4 707.5L252.2 707.3L253.0 707.1L253.7 707.0L254.4 706.5L255.1 706.1L255.7 705.8L256.4 705.6L257.0 705.3L257.6 704.7L258.2 704.2L258.9 703.9L259.5 703.5L260.1 702.7L260.7 702.0L261.4 701.8L262.0 701.6L262.7 701.0L263.3 700.6L264.0 700.4L264.7 700.1L265.4 699.6L266.1 699.1L266.8 698.8L267.5 698.4L268.2 697.9L268.9 697.3L269.7 696.9L270.4 696.7L271.2 696.5L271.9 696.3L272.7 696.0L273.4 695.9L274.2 695.8L274.9 695.7L275.7 695.3L276.5 694.9L277.2 694.3L278.0 694.1L278.8 693.8L279.5 693.5L280.3 693.1L281.0 692.9L281.8 692.7L282.6 692.5L283.3 692.3L284.1 692.2L284.8 692.0L285.6 691.6L286.3 691.2L287.1 690.8L287.8 690.6L288.6 690.3L289.3 690.0L290.0 689.8L290.8 689.7L291.5 689.4L292.2 689.0L293.0 688.6L293.7 688.3L294.4 688.1L295.1 687.9L295.9 687.7L296.6 687.2L297.3 686.9L298.0 686.5L298.7 686.2L299.4 685.8L300.1 685.4L300.8 685.1L301.5 684.8L302.2 684.6L302.9 684.4L303.6 684.1L304.3 683.7L305.0 683.2L305.7 682.6L306.4 682.1L307.1 681.4L307.7 680.9L308.4 680.7L309.1 680.4L309.8 680.0L310.4 679.5L311.1 679.1L311.8 678.7L312.4 678.4L313.1 678.0L313.8 677.6L314.4 677.2L315.1 676.7L315.7 676.2L316.4 675.7L317.0 675.4L317.7 675.0L318.3 674.5L319.0 674.0L319.6 673.7L320.3 673.2L320.9 672.5L321.5 671.9L322.2 671.7L322.8 671.4L323.4 671.0L324.1 670.5L324.7 670.0L325.3 669.6L325.9 669.0L326.6 668.5L327.2 668.0L327.8 667.8L328.4 667.6L329.0 666.9L329.6 666.0L330.2 665.5L330.8 665.0L331.4 664.6L332.0 664.0L332.6 663.5L333.2 662.8L333.8 662.4L334.4 662.0L335.0 661.6L335.6 661.0L336.2 660.3L336.8 659.6L337.4 658.8L338.0 658.1L338.5 657.4L339.1 656.7L339.7 656.0L340.3 655.5L340.8 655.0L341.4 654.6L342.0 653.9L342.5 653.3L343.1 652.7L343.7 652.3L344.2 652.1L344.8 651.7L345.4 651.3L345.9 650.7L346.5 650.4L347.0 650.0L347.6 649.6L348.1 648.8L348.7 648.4L349.2 647.9L349.8 647.4L350.3 646.7L350.8 646.1L351.4 645.4L351.9 644.7L352.5 644.0L353.0 643.5L353.5 643.1L354.1 642.4L354.6 641.7L355.1 641.0L355.6 640.4L356.2 639.6L356.7 639.0L357.2 638.3L357.7 637.5L358.2 636.6L358.7 636.1L359.3 635.7L359.8 635.0L360.3 634.1L360.8 633.4L361.3 632.8L361.8 632.2L362.3 631.5L362.8 630.9L363.3 630.2L363.8 629.6L364.3 628.8L364.8 628.1L365.3 627.6L365.8 626.9L366.3 626.3L366.8 625.8L367.2 625.4L367.7 624.8L368.2 624.0L368.7 623.2L369.2 622.4L369.7 621.7L370.1 620.9L370.6 620.3L371.1 619.5L371.6 618.9L372.0 618.2L372.5 617.7L373.0 617.1L373.4 616.2L373.9 615.5L374.4 614.7L374.8 614.3L375.3 613.5L375.8 612.7L376.2 612.0L376.7 611.7L377.1 611.1L377.6 610.3L378.0 609.5L378.5 609.1L378.9 608.7L379.4 608.2L379.8 607.3L380.3 606.4L380.7 605.5L381.2 604.7L381.6 604.0L382.0 603.4L382.5 602.7L382.9 602.3L383.4 601.7L383.8 601.1L384.2 600.5L384.7 600.0L385.1 599.5L385.5 598.7L385.9 597.8L386.4 597.0L386.8 596.4L387.2 595.6L387.6 594.7L388.1 593.7L388.5 593.0L388.9 592.3L389.3 591.6L389.7 590.8L390.2 590.2L390.6 589.8L391.0 589.4L391.4 588.7L391.8 587.8L392.2 587.1L392.6 586.5L393.0 585.9L393.4 585.2L393.8 584.4L394.2 583.5L394.6 582.4L395.0 581.5L395.4 580.8L395.8 580.5L396.2 579.9L396.6 579.1L397.0 578.3L397.4 578.1L397.8 577.5L398.2 576.9L398.6 576.4L399.0 575.7L399.4 574.8L399.8 573.9L400.1 573.5L400.5 572.7L400.9 571.8L401.3 571.1L401.7 570.3L402.0 569.4L402.4 568.5L402.8 567.8L403.2 567.0L403.6 566.2L403.9 565.2L404.3 564.3L404.7 563.6L405.0 563.1L405.4 562.8L405.8 562.4L406.2 561.8L406.5 561.2L406.9 560.8L407.3 560.2L407.6 559.5L408.0 558.6L408.3 557.7L408.7 556.7L409.1 556.0L409.4 555.2L409.8 554.5L410.1 553.7L410.5 553.0L410.9 552.0L411.2 551.2L411.6 550.5L411.9 549.9L412.3 549.3L412.6 548.7L413.0 547.8L413.3 547.2L413.7 546.3L414.0 545.6L414.4 544.8L414.7 544.1L415.0 543.2L415.4 542.5L415.7 541.9L416.1 541.3L416.4 540.5L416.8 539.6L417.1 538.9L417.4 538.3L417.8 537.6L418.1 536.7L418.4 535.9L418.8 535.3L419.1 534.7L419.4 534.0L419.8 533.3L420.1 533.0L420.4 532.7L420.8 532.3L421.1 531.6L421.4 530.9L421.8 530.3L422.1 529.8L422.4 529.1L422.7 528.2L423.1 527.3L423.4 526.6L423.7 525.6L424.0 524.8L424.4 524.1L424.7 523.3L425.0 522.6L425.3 521.7L425.6 520.9L426.0 519.9L426.3 519.2L426.6 518.6L426.9 517.7L427.2 516.9L427.6 516.2L427.9 515.6L428.2 514.6L428.5 513.7L428.8 513.1L429.1 512.6L429.4 512.0L429.7 511.4L430.1 510.8L430.4 510.2L430.7 509.3L431.0 508.4L431.3 507.7L431.6 507.0L431.9 506.1L432.2 505.1L432.5 504.0L432.8 503.3L433.1 502.7L433.4 502.1L433.7 501.4L434.0 500.7L434.3 500.1L434.7 499.5L435.0 498.9L435.3 498.3L435.6 497.4L435.9 496.5L436.2 495.7L436.5 495.0L436.8 494.1L437.1 493.7L437.4 493.2L437.7 492.4L437.9 491.4L438.2 490.7L438.5 490.0L438.8 489.2L439.1 488.3L439.4 487.4L439.7 486.5L440.0 485.8L440.3 485.3L440.6 484.8L440.9 484.1L441.2 483.5L441.5 482.8L441.8 482.2L442.1 481.3L442.4 480.5L442.7 479.7L442.9 479.2L443.2 478.5L443.5 477.8L443.8 476.9L444.1 476.3L444.4 475.5L444.7 474.6L445.0 473.7L445.3 472.9L445.5 472.3L445.8 471.7L446.1 470.9L446.4 470.0L446.7 469.1L447.0 468.3L447.3 467.6L447.6 466.9L447.8 465.8L448.1 464.8L448.4 464.1L448.7 463.8L449.0 463.4L449.3 462.8L449.6 461.9L449.8 461.0L450.1 460.2L450.4 459.3L450.7 458.4L451.0 457.6L451.3 456.9L451.5 456.3L451.8 455.6L452.1 454.8L452.4 453.9L452.7 453.1L452.9 452.4L453.2 451.8L453.5 451.2L453.8 450.7L454.1 450.1L454.3 449.4L454.6 448.6L454.9 447.8L455.2 447.1L455.5 446.2L455.7 445.2L456.0 444.7L456.3 444.3L456.6 443.7L456.9 442.8L457.1 441.9L457.4 441.0L457.7 440.3L458.0 439.7L458.2 439.1L458.5 438.5L458.8 437.7L459.1 436.9L459.4 436.1L459.6 435.2L459.9 434.3L460.2 433.6L460.5 433.0L460.7 432.0L461.0 431.3L461.3 430.7L461.6 430.2L461.8 429.5L462.1 428.6L462.4 427.7L462.7 427.0L462.9 426.4L463.2 425.5L463.5 424.8L463.8 423.8L464.0 423.0L464.3 422.2L464.6 421.5L464.9 420.8L465.1 420.0L465.4 419.4L465.7 418.7L465.9 417.9L466.2 417.1L466.5 416.4L466.8 415.7L467.0 414.8L467.3 414.0L467.6 413.4L467.8 412.8L468.1 412.3L468.4 411.5L468.7 410.8L468.9 410.0L469.2 409.2L469.5 408.3L469.7 407.5L470.0 406.8L470.3 406.1L470.6 405.4L470.8 404.6L471.1 403.9L471.4 403.1L471.6 402.4L471.9 401.6L472.2 400.8L472.4 400.1L472.7 399.2L473.0 398.5L473.3 397.9L473.5 397.3L473.8 396.6L474.1 395.7L474.3 394.6L474.6 393.7L474.9 393.0L475.1 392.5L475.4 391.8L475.7 391.0L475.9 390.2L476.2 389.6L476.5 388.9L476.8 387.9L477.0 387.0L477.3 386.4L477.6 385.8L477.8 385.0L478.1 384.1L478.4 383.3L478.6 382.5L478.9 381.9L479.2 381.2L479.4 380.5L479.7 379.6L480.0 378.9L480.2 378.0L480.5 377.0L480.8 376.1L481.0 375.4L481.3 374.6L481.6 373.9L481.8 373.1L482.1 372.4L482.4 371.5L482.6 370.6L482.9 369.8L483.2 369.4L483.4 369.0L483.7 368.4L484.0 367.6L484.2 366.6L484.5 365.8L484.8 365.1L485.0 364.4L485.3 363.7L485.6 363.1L485.8 362.2L486.1 361.5L486.4 360.5L486.6 359.6L486.9 358.7L487.2 358.0L487.4 357.2L487.7 356.6L488.0 355.9L488.2 355.2L488.5 354.3L488.8 353.5L489.0 352.8L489.3 352.3L489.6 351.5L489.8 350.5L490.1 349.9L490.4 349.4L490.6 348.8L490.9 348.0L491.2 347.5L491.4 346.9L491.7 346.2L492.0 345.4L492.3 344.6L492.5 343.6L492.8 342.8L493.1 342.1L493.3 341.4L493.6 340.3L493.9 339.4L494.1 338.6L494.4 338.0L494.7 337.4L494.9 336.9L495.2 336.2L495.5 335.3L495.7 334.4L496.0 333.7L496.3 332.6L496.5 331.5L496.8 330.6L497.1 330.0L497.3 329.0L497.6 328.1L497.9 327.3L498.1 326.7L498.4 326.2L498.7 325.6L498.9 324.8L499.2 324.1L499.5 323.6L499.8 323.0L500.0 322.2L500.3 321.5L500.6 320.7L500.8 320.0L501.1 319.4L501.4 318.6L501.6 317.5L501.9 316.7L502.2 316.1L502.4 315.5L502.7 314.8L503.0 314.0L503.3 313.2L503.5 312.2L503.8 311.2L504.1 310.3L504.3 309.4L504.6 308.7L504.9 307.8L505.1 307.2L505.4 306.4L505.7 305.7L506.0 305.0L506.2 304.2L506.5 303.5L506.8 302.8L507.0 302.3L507.3 301.4L507.6 300.5L507.9 299.5L508.1 298.7L508.4 298.0L508.7 297.1L508.9 296.4L509.2 295.5L509.5 294.8L509.8 293.9L510.0 293.2L510.3 292.4L510.6 291.8L510.8 291.0L511.1 290.6L511.4 290.0L511.7 289.4L511.9 288.7L512.2 288.0L512.5 287.2L512.7 286.4L513.0 285.7L513.3 284.9L513.6 283.9L513.8 283.3L514.1 282.6L514.4 281.8L514.6 280.7L514.9 279.8L515.2 279.3L515.5 278.8L515.7 278.3L516.0 277.7L516.3 277.0L516.5 276.2L516.8 275.5L517.1 275.0L517.3 274.3L517.6 273.4L517.9 272.5L518.2 272.0L518.4 271.4L518.7 270.6L519.0 269.6L519.2 268.7L519.5 267.8L519.8 267.0L520.0 266.4L520.3 265.6L520.6 264.8L520.8 264.0L521.1 263.5L521.4 262.9L521.7 262.1L521.9 261.3L522.2 260.5L522.5 259.6L522.7 258.7L523.0 258.1L523.3 257.4L523.5 256.4L523.8 255.6L524.1 255.1L524.3 254.4L524.6 253.4L524.9 252.4L525.1 251.6L525.4 250.8L525.7 250.0L525.9 249.2L526.2 248.4L526.5 247.7L526.7 247.2L527.0 246.5L527.2 245.6L527.5 244.8L527.8 244.1L528.0 243.4L528.3 242.6L528.6 242.0L528.8 241.3L529.1 240.6L529.4 239.9L529.6 239.2L529.9 238.7L530.1 237.9L530.4 237.0L530.7 236.2L530.9 235.5L531.2 234.7L531.5 233.8L531.7 233.0L532.0 232.2L532.2 231.3L532.5 230.7L532.8 230.0L533.0 229.2L533.3 228.2L533.6 227.8L533.8 227.3L534.1 226.6L534.3 225.6L534.6 224.9L534.9 224.1L535.1 223.2L535.4 222.1L535.7 221.4L535.9 220.6L536.2 219.6L536.5 218.7L536.7 218.1L537.0 217.6L537.2 216.8L537.5 216.0L537.8 215.3L538.0 214.8L538.3 214.2L538.6 213.6L538.8 213.0L539.1 212.5L539.4 211.6L539.6 210.8L539.9 210.0L540.2 209.2L540.4 208.3L540.7 207.4L541.0 206.6L541.2 205.9L541.5 205.2L541.8 204.6L542.0 203.8L542.3 203.2L542.6 202.6L542.9 202.0L543.1 201.1L543.4 200.3L543.7 199.6L543.9 198.8L544.2 198.0L544.5 197.2L544.8 196.5L545.0 195.9L545.3 195.1L545.6 194.2L545.8 193.4L546.1 192.5L546.4 191.7L546.7 191.0L547.0 190.3L547.2 189.7L547.5 189.0L547.8 188.3L548.1 187.5L548.3 186.8L548.6 186.1L548.9 185.5L549.2 184.8L549.5 183.8L549.7 182.8L550.0 182.2L550.3 181.8L550.6 181.2L550.9 180.5L551.2 179.6L551.5 178.7L551.7 177.9L552.0 177.3L552.3 176.5L552.6 175.7L552.9 174.9L553.2 173.9L553.5 173.1L553.8 172.5L554.1 171.8L554.3 170.9L554.6 170.2L554.9 169.6L555.2 168.8L555.5 168.0L555.8 167.5L556.1 166.9L556.4 166.2L556.7 165.5L557.0 164.7L557.3 163.8L557.6 163.1L557.9 162.4L558.2 161.9L558.5 161.2L558.8 160.6L559.1 159.8L559.5 159.1L559.8 158.2L560.1 157.5L560.4 157.0L560.7 156.2L561.0 155.3L561.3 154.6L561.6 153.9L561.9 153.1L562.3 152.3L562.6 151.5L562.9 150.7L563.2 149.8L563.5 149.0L563.8 148.2L564.2 147.6L564.5 147.0L564.8 146.4L565.1 145.7L565.5 144.9L565.8 143.9L566.1 143.0L566.5 142.3L566.8 141.6L567.1 140.8L567.4 140.0L567.8 139.2L568.1 138.4L568.4 137.7L568.8 137.1L569.1 136.5L569.5 135.7L569.8 134.9L570.1 134.3L570.5 133.6L570.8 133.0L571.2 132.2L571.5 131.5L571.9 130.7L572.2 129.9L572.6 129.0L572.9 128.2L573.3 127.4L573.6 126.8L574.0 126.0L574.3 125.3L574.7 124.5L575.1 123.8L575.4 123.1L575.8 122.4L576.1 121.8L576.5 121.2L576.9 120.5L577.2 119.8L577.6 119.1L578.0 118.4L578.4 117.7L578.7 116.9L579.1 116.1L579.5 115.3L579.9 114.5L580.2 113.8L580.6 113.0L581.0 112.4L581.4 111.8L581.8 111.2L582.1 110.6L582.5 109.8L582.9 109.2L583.3 108.4L583.7 107.8L584.1 107.1L584.5 106.4L584.9 105.8L585.3 105.1L585.7 104.2L586.1 103.5L586.5 102.8L586.9 102.2L587.3 101.5L587.7 100.8L588.1 100.0L588.5 99.4L588.9 98.7L589.4 98.1L589.8 97.4L590.2 96.7L590.6 95.9L591.0 95.1L591.4 94.4L591.9 93.8L592.3 93.2L592.7 92.6L593.2 92.0L593.6 91.4L594.0 90.7L594.4 90.0L594.9 89.3L595.3 88.6L595.8 88.0L596.2 87.4L596.6 86.6L597.1 86.0L597.5 85.4L598.0 84.7L598.4 84.0L598.9 83.4L599.3 82.7L599.8 82.1L600.3 81.5L600.7 80.8L601.2 80.2L601.6 79.5L602.1 78.8L602.6 78.1L603.0 77.5L603.5 77.0L604.0 76.4L604.5 75.7L604.9 75.0L605.4 74.4L605.9 73.8L606.4 73.1L606.9 72.5L607.4 71.9L607.9 71.3L608.4 70.7L608.9 70.1L609.4 69.6L609.9 69.0L610.4 68.5L610.9 67.9L611.4 67.3L612.0 66.8L612.5 66.1L613.1 65.6L613.6 65.0L614.2 64.4L614.7 63.8L615.3 63.3L615.9 62.7L616.5 62.3L617.1 61.8L617.7 61.3L618.3 60.8L618.9 60.3L619.5 59.9L620.1 59.4L620.8 58.9L621.4 58.4L622.1 57.9L622.8 57.5L623.5 57.0L624.1 56.5L624.8 56.1L625.5 55.6L626.2 55.2L626.9 54.7L627.7 54.3L628.4 53.9L629.1 53.5L629.9 53.1L630.6 52.8L631.3 52.4L632.1 52.1L632.8 51.8L633.6 51.4L634.3 51.1L635.1 50.8L635.9 50.6L636.6 50.3L637.4 50.0L638.2 49.7L638.9 49.5L639.7 49.2L640.5 49.0L641.2 48.8L642.0 48.6L642.8 48.4L643.6 48.2L644.3 48.0L645.1 47.8L645.9 47.7L646.7 47.5L647.5 47.4L648.2 47.2L649.0 47.1L649.8 47.0L650.6 46.8L651.4 46.7L652.2 46.6L653.0 46.5L653.8 46.4L654.5 46.3L655.3 46.2L656.1 46.2L656.9 46.1L657.7 46.0L658.5 46.0L659.3 45.9L660.1 45.8L660.9 45.8L661.7 45.7L662.5 45.7L663.3 45.7L664.1 45.6L664.9 45.6L665.7 45.5L666.5 45.5L667.3 45.5L668.1 45.4L668.9 45.4L669.7 45.4L670.5 45.4L671.3 45.3L672.1 45.3L672.9 45.3L673.7 45.3L674.5 45.2L675.3 45.2L676.0 45.2L676.8 45.2L677.6 45.1L678.4 45.1L679.2 45.1L680.0 45.1L680.8 45.0L681.6 45.0L682.4 45.0L683.2 45.0L684.0 44.9L684.8 44.9L685.6 44.9L686.4 44.9L687.2 44.9L688.0 44.8L688.8 44.8L689.6 44.8L690.4 44.8L691.2 44.8L692.0 44.8L692.8 44.7L693.6 44.7L694.4 44.7L695.2 44.7L696.0 44.7L696.8 44.7L697.6 44.6L698.4 44.6L699.2 44.6L700.0 44.6L700.8 44.6L701.6 44.6L702.4 44.6L703.2 44.5L704.0 44.5L704.8 44.5L705.6 44.5L706.4 44.5L707.2 44.5L708.0 44.5L708.8 44.5L709.6 44.4L710.4 44.4L711.2 44.4L712.0 44.4L712.8 44.4L713.6 44.4L714.4 44.4L715.2 44.4L716.0 44.4L716.8 44.4L717.6 44.4L718.4 44.3L719.2 44.3L720.0 44.3L720.8 44.3L721.6 44.3L722.4 44.3L723.2 44.3L724.0 44.3L724.8 44.3L725.6 44.3L726.4 44.3L727.2 44.3L728.0 44.3L728.8 44.3L729.6 44.3L730.4 44.3L731.2 44.3L732.0 44.3L732.8 44.2L733.6 44.2L734.4 44.2L735.2 44.2L736.0 44.2L736.8 44.2L737.6 44.2L738.4 44.2L739.2 44.2L740.0 44.2L740.8 44.2L741.6 44.2L742.4 44.2L743.2 44.2L744.0 44.2L744.8 44.2L745.6 44.2L746.4 44.2L747.2 44.2L748.0 44.2L748.8 44.2L749.6 44.2L750.4 44.2L751.2 44.2L752.0 44.2L752.8 44.2L753.6 44.2L754.4 44.2L755.2 44.2L756.0 44.2L756.8 44.2L757.6 44.2L758.4 44.2L759.2 44.2L760.0 44.2L760.8 44.2L761.6 44.2L762.4 44.2L763.2 44.2L764.0 44.2L764.8 44.2L765.6 44.2L766.4 44.2L767.2 44.2L768.0 44.2L768.8 44.2L769.6 44.2L770.4 44.2L771.2 44.2L772.0 44.2L772.8 44.2L773.6 44.2L774.4 44.2L775.2 44.2L776.0 44.2L776.8 44.2L777.6 44.2L778.4 44.2L779.2 44.2L780.0 44.2L780.8 44.2L781.6 44.2L782.4 44.2L783.2 44.2L784.0 44.2L784.8 44.2L785.6 44.2L786.4 44.2L787.2 44.2L788.0 44.2L788.8 44.2L789.6 44.2L790.4 44.2L791.2 44.2L792.0 44.2L792.8 44.2L793.6 44.2L794.4 44.2L795.2 44.2L796.0 44.2L796.8 44.2L797.6 44.2L798.4 44.2L799.2 44.2L800.0 44.2L800.8 44.2L801.6 44.2L802.4 44.2L803.2 44.2L804.0 44.2L804.8 44.2L805.6 44.2L806.4 44.2L807.2 44.2L808.0 44.2L808.8 44.2L809.6 44.2L810.4 44.2L811.2 44.2L812.0 44.2L812.8 44.2L813.6 44.2L814.4 44.2L815.2 44.2L816.0 44.2L816.8 44.2L817.6 44.2L818.4 44.2L819.2 44.2L820.0 44.2L820.8 44.2L821.6 44.2L822.4 44.2L823.2 44.2L824.0 44.2L824.8 44.2L825.6 44.2L826.4 44.2L827.2 44.2L828.0 44.2L828.8 44.2L829.6 44.2L830.4 44.2L831.2 44.2L832.0 44.2L832.8 44.2L833.6 44.2L834.4 44.2L835.2 44.2L836.0 44.2L836.8 44.2L837.6 44.2L838.4 44.2L839.2 44.2L840.0 44.2L840.8 44.2L841.6 44.2L842.4 44.2L843.2 44.2L844.0 44.2L844.8 44.2L845.6 44.2L846.4 44.2L847.2 44.2L848.0 44.2L848.8 44.2L849.6 44.2L850.4 44.2L851.2 44.2L852.0 44.2L852.8 44.2L853.6 44.2L854.4 44.2L855.2 44.2L856.0 44.2L856.8 44.2L857.6 44.2L858.4 44.2L859.2 44.2L860.0 44.2L860.8 44.2L861.6 44.2L862.4 44.2L863.2 44.2L864.0 44.2L864.8 44.2L865.6 44.2L866.4 44.2L867.2 44.2L868.0 44.2L868.8 44.2L869.6 44.2L870.4 44.2L871.2 44.2L872.0 44.2L872.8 44.2L873.6 44.2L874.4 44.2L875.2 44.2L876.0 44.2L876.8 44.2L877.6 44.2L878.4 44.2L879.2 44.2L880.0 44.2L880.8 44.2L881.6 44.2L882.4 44.2L883.2 44.2L884.0 44.2L884.8 44.2L885.6 44.2L886.4 44.2L887.2 44.2L888.0 44.2L888.8 44.2L889.6 44.2L890.4 44.2L891.2 44.2L892.0 44.2L892.8 44.2L893.6 44.2L894.4 44.2L895.2 44.2L896.0 44.2L896.8 44.2L897.6 44.2L898.4 44.2L899.2 44.2L900.0 44.2L900.8 44.2L901.6 44.2L902.4 44.2L903.2 44.2L904.0 44.2L904.8 44.2L905.6 44.2L906.4 44.2L907.2 44.2L908.0 44.2L908.8 44.2L909.6 44.2L910.4 44.2L911.2 44.2L912.0 44.2L912.8 44.2L913.6 44.2L914.4 44.2L915.2 44.2L916.0 44.2L916.8 44.2L917.6 44.2L918.4 44.2L919.2 44.2L920.0 44.2L920.8 44.2L921.6 44.2L922.4 44.2L923.2 44.2L924.0 44.2L924.8 44.2L925.6 44.2L926.4 44.2L927.2 44.2L928.0 44.2L928.8 44.2L929.6 44.2L930.4 44.2L931.2 44.2L932.0 44.2L932.8 44.2L933.6 44.2L934.4 44.2L935.2 44.2L936.0 44.2L936.8 44.2L937.6 44.2L938.4 44.2L939.2 44.2L940.0 44.2L940.8 44.2L941.6 44.2L942.4 44.2L943.2 44.2L944.0 44.2L944.8 44.2L945.6 44.2L946.4 44.2L947.2 44.2L948.0 44.2L948.8 44.2L949.6 44.2L950.4 44.2L951.2 44.2L952.0 44.2L952.8 44.2L953.6 44.2L954.4 44.2L955.2 44.2L956.0 44.2L956.8 44.2L957.6 44.2L958.4 44.2L959.2 44.2L960.0 44.2L960.8 44.2L961.6 44.2L962.4 44.2L963.2 44.2L964.0 44.2L964.8 44.2L965.6 44.2L966.4 44.2L967.2 44.2L968.0 44.2L968.8 44.2L969.6 44.2L970.4 44.2L971.2 44.2L972.0 44.2L972.8 44.2L973.6 44.2L974.4 44.2L975.2 44.2L976.0 44.2L976.8 44.2L977.6 44.2L978.4 44.2L979.2 44.2L980.0 44.2L980.8 44.2L981.6 44.2L982.4 44.2L983.2 44.2L984.0 44.2L984.8 44.2L985.6 44.2L986.4 44.2L987.2 44.2L988.0 44.2L988.8 44.2L989.6 44.2L990.4 44.2L991.2 44.2L992.0 44.2L992.8 44.2L993.6 44.2L994.4 44.2L994.7 44.2L1000.0 44.2" stroke="#5a3d9f" stroke-width="6.0"/>
</g>
<g font-family="'Liberation Sans', Arial, Helvetica, sans-serif" font-size="37" fill="#111" stroke="#111" stroke-width="0.35">
<text x="163.4" y="55.6" text-anchor="end"><tspan dy="0">0</tspan></text>
<text x="163.4" y="242.8" text-anchor="end"><tspan dy="-1.8">–</tspan><tspan dy="1.8">50</tspan></text>
<text x="163.4" y="430.0" text-anchor="end"><tspan dy="-1.8">–</tspan><tspan dy="1.8">100</tspan></text>
<text x="163.4" y="617.1" text-anchor="end"><tspan dy="-1.8">–</tspan><tspan dy="1.8">150</tspan></text>
<text x="163.4" y="804.3" text-anchor="end"><tspan dy="-1.8">–</tspan><tspan dy="1.8">200</tspan></text>
<text x="258.0" y="865.5" text-anchor="end"><tspan dy="-1.8">–</tspan><tspan dy="1.8">1.0</tspan></text>
<text x="375.5" y="865.5" text-anchor="end"><tspan dy="-1.8">–</tspan><tspan dy="1.8">0.8</tspan></text>
<text x="493.0" y="865.5" text-anchor="end"><tspan dy="-1.8">–</tspan><tspan dy="1.8">0.6</tspan></text>
<text x="610.5" y="865.5" text-anchor="end"><tspan dy="-1.8">–</tspan><tspan dy="1.8">0.4</tspan></text>
<text x="728.0" y="865.5" text-anchor="end"><tspan dy="-1.8">–</tspan><tspan dy="1.8">0.2</tspan></text>
<text x="818.5" y="865.5" text-anchor="middle">0.0</text>
<text x="936.0" y="865.5" text-anchor="middle">0.2</text>
<text x="201" y="211.4" letter-spacing="0.25">250 rpm</text>
<text x="201" y="328.1" letter-spacing="0.25">500</text>
<text x="203" y="446.4" letter-spacing="0.25">1000</text>
<text x="203" y="579.0" letter-spacing="0.25">1500</text>
<text x="201.5" y="682.5" letter-spacing="0.25">2000</text>
<text x="335" y="908.4" letter-spacing="0.19"><tspan font-style="italic">E</tspan> / V vs. Ag/AgCl in 3.33 M KCl</text>
<text transform="translate(35.8 518.2) rotate(-90)"><tspan font-style="italic">i</tspan><tspan font-size="27.8" dy="6" dx="7.5">L</tspan><tspan dy="-6" dx="1.6"> / mA</tspan><tspan dx="0.6"> cm</tspan><tspan font-size="27.8" dy="-10.5">–2</tspan></text>
<text x="777" y="112.4">5 mV s<tspan font-size="27.8" dy="-10.4">–1</tspan></text>
<text x="590" y="711.3" text-anchor="end">0</text>
<text x="590" y="616.3" text-anchor="end">50</text>
<text x="590" y="521.3" text-anchor="end">100</text>
<text x="590" y="426.3" text-anchor="end">150</text>
<text x="603.0" y="736.0" text-anchor="middle">0</text>
<text x="715.1" y="736.0" text-anchor="middle">5</text>
<text x="827.8" y="736.0" text-anchor="middle">10</text>
<text x="940.5" y="736.0" text-anchor="middle">15</text>
<text x="657" y="780.4" letter-spacing="-0.2"><tspan font-style="italic">ω</tspan><tspan font-size="27.8" dy="-10">1/2</tspan><tspan dy="10"> / rad</tspan><tspan font-size="27.8" dy="-10">1/2</tspan><tspan dy="10"> s</tspan><tspan font-size="27.8" dy="-10" dx="2.5">–<tspan dx="-2">1/2</tspan></tspan></text>
<text x="767.8" y="615.5"><tspan font-style="italic">y</tspan><tspan dx="-1.8"> =</tspan><tspan dx="2.2"> 11.9</tspan></text>
<text x="913.6" y="615.5" font-style="italic">x</text>
<text transform="translate(523 635) rotate(-90)">|<tspan font-style="italic" dx="2.6">i</tspan><tspan font-size="27.8" dy="6" dx="-1.2">L</tspan><tspan dy="-6" dx="-0.8">|</tspan><tspan dx="1"> / </tspan><tspan dx="3">mA</tspan><tspan dx="1"> cm</tspan><tspan font-size="27.8" dy="-10.5">–2</tspan></text>
</g>
<line x1="804" y1="68" x2="890" y2="68" stroke="#111" stroke-width="3.4"/>
<path d="M789.5 68L806.5 58.8L803 68L806.5 77.4Z" fill="#111"/>
<g stroke="#5c5c5c" stroke-width="2.3" fill="none">
<path d="M713.4 340.8v9.5M713.4 702.5v-9.5M826.0 340.8v9.5M826.0 702.5v-9.5M938.7 340.8v9.5M938.7 702.5v-9.5M600.7 607.7h9.5M961.3 607.7h-9.5M600.7 512.7h9.5M961.3 512.7h-9.5M600.7 417.7h9.5M961.3 417.7h-9.5"/>
<rect x="600.7" y="340.8" width="360.5999999999999" height="361.7"/>
</g>
<line x1="600.7" y1="702.5" x2="961.3" y2="341.8" stroke="#111" stroke-width="2.6"/>
<rect x="709.0" y="594.6" width="12.4" height="12.4" fill="#ea1821"/>
<rect x="757.3" y="540.2" width="12.4" height="12.4" fill="#ea1821"/>
<rect x="825.4" y="479.4" width="12.4" height="12.4" fill="#ea1821"/>
<rect x="877.7" y="402.6" width="12.4" height="12.4" fill="#ea1821"/>
<rect x="921.4" y="360.4" width="12.4" height="12.4" fill="#ea1821"/>
</g>
</svg>
</body>
</html>
